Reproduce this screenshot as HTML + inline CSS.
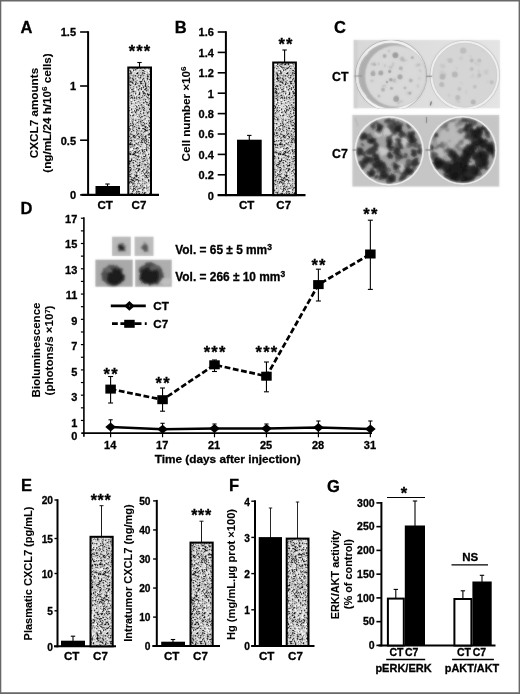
<!DOCTYPE html>
<html><head><meta charset="utf-8"><title>Figure</title>
<style>html,body{margin:0;padding:0;background:#fff}svg{display:block}</style></head>
<body>
<svg width="520" height="694" viewBox="0 0 520 694" font-family="Liberation Sans, Arial, Helvetica, sans-serif" font-weight="bold" fill="#000">
<style>text{stroke:#000;stroke-width:0.3px}text.r{stroke-width:0.1px}</style>
<defs><pattern id="nz" width="30" height="140" patternUnits="userSpaceOnUse" patternTransform="translate(0.2 0.2)"><rect width="30" height="140" fill="#dadada"/><path d="M3 0h1v1h-1zM6 0h1v1h-1zM8 0h1v1h-1zM10 0h1v1h-1zM11 0h1v1h-1zM21 0h1v1h-1zM3 1h1v1h-1zM4 1h1v1h-1zM26 1h1v1h-1zM10 2h1v1h-1zM18 2h1v1h-1zM22 2h1v1h-1zM28 2h1v1h-1zM16 3h1v1h-1zM25 3h1v1h-1zM4 4h1v1h-1zM5 4h1v1h-1zM9 4h1v1h-1zM10 4h1v1h-1zM14 4h1v1h-1zM26 4h1v1h-1zM2 5h1v1h-1zM7 5h1v1h-1zM29 5h1v1h-1zM0 6h1v1h-1zM20 6h1v1h-1zM17 7h1v1h-1zM13 8h1v1h-1zM16 8h1v1h-1zM24 9h1v1h-1zM26 9h1v1h-1zM19 10h1v1h-1zM22 10h1v1h-1zM26 10h1v1h-1zM2 11h1v1h-1zM14 11h1v1h-1zM15 11h1v1h-1zM18 11h1v1h-1zM22 11h1v1h-1zM24 11h1v1h-1zM6 12h1v1h-1zM15 12h1v1h-1zM17 12h1v1h-1zM8 13h1v1h-1zM10 13h1v1h-1zM14 13h1v1h-1zM2 14h1v1h-1zM8 14h1v1h-1zM10 14h1v1h-1zM12 14h1v1h-1zM13 14h1v1h-1zM28 14h1v1h-1zM15 15h1v1h-1zM25 15h1v1h-1zM1 16h1v1h-1zM4 16h1v1h-1zM17 16h1v1h-1zM23 16h1v1h-1zM24 16h1v1h-1zM8 17h1v1h-1zM29 17h1v1h-1zM0 18h1v1h-1zM8 18h1v1h-1zM23 18h1v1h-1zM11 19h1v1h-1zM17 19h1v1h-1zM11 20h1v1h-1zM13 20h1v1h-1zM24 20h1v1h-1zM9 21h1v1h-1zM10 21h1v1h-1zM15 21h1v1h-1zM2 22h1v1h-1zM13 22h1v1h-1zM19 22h1v1h-1zM1 23h1v1h-1zM9 23h1v1h-1zM7 24h1v1h-1zM8 24h1v1h-1zM19 24h1v1h-1zM25 24h1v1h-1zM6 25h1v1h-1zM13 25h1v1h-1zM17 25h1v1h-1zM18 25h1v1h-1zM19 25h1v1h-1zM2 26h1v1h-1zM7 26h1v1h-1zM27 26h1v1h-1zM1 27h1v1h-1zM2 27h1v1h-1zM9 27h1v1h-1zM10 27h1v1h-1zM16 28h1v1h-1zM10 29h1v1h-1zM18 29h1v1h-1zM23 29h1v1h-1zM10 30h1v1h-1zM18 30h1v1h-1zM22 30h1v1h-1zM9 31h1v1h-1zM0 32h1v1h-1zM3 32h1v1h-1zM16 32h1v1h-1zM28 32h1v1h-1zM1 33h1v1h-1zM3 33h1v1h-1zM7 33h1v1h-1zM24 33h1v1h-1zM8 34h1v1h-1zM7 35h1v1h-1zM15 35h1v1h-1zM16 35h1v1h-1zM25 35h1v1h-1zM26 35h1v1h-1zM10 36h1v1h-1zM16 36h1v1h-1zM26 36h1v1h-1zM0 37h1v1h-1zM2 37h1v1h-1zM14 37h1v1h-1zM18 37h1v1h-1zM27 37h1v1h-1zM13 38h1v1h-1zM8 39h1v1h-1zM11 39h1v1h-1zM16 39h1v1h-1zM17 39h1v1h-1zM22 39h1v1h-1zM28 39h1v1h-1zM5 40h1v1h-1zM12 40h1v1h-1zM13 40h1v1h-1zM18 40h1v1h-1zM28 40h1v1h-1zM7 41h1v1h-1zM10 41h1v1h-1zM14 41h1v1h-1zM0 42h1v1h-1zM9 42h1v1h-1zM11 42h1v1h-1zM5 44h1v1h-1zM2 45h1v1h-1zM20 45h1v1h-1zM13 46h1v1h-1zM16 46h1v1h-1zM24 47h1v1h-1zM6 48h1v1h-1zM13 48h1v1h-1zM14 48h1v1h-1zM15 49h1v1h-1zM22 49h1v1h-1zM1 50h1v1h-1zM4 50h1v1h-1zM13 50h1v1h-1zM12 51h1v1h-1zM16 51h1v1h-1zM18 51h1v1h-1zM7 52h1v1h-1zM22 52h1v1h-1zM24 52h1v1h-1zM0 53h1v1h-1zM11 53h1v1h-1zM12 53h1v1h-1zM16 53h1v1h-1zM19 53h1v1h-1zM24 53h1v1h-1zM29 53h1v1h-1zM7 54h1v1h-1zM8 54h1v1h-1zM11 54h1v1h-1zM17 54h1v1h-1zM4 55h1v1h-1zM22 55h1v1h-1zM28 55h1v1h-1zM9 56h1v1h-1zM24 56h1v1h-1zM13 57h1v1h-1zM23 57h1v1h-1zM24 57h1v1h-1zM7 58h1v1h-1zM10 58h1v1h-1zM11 58h1v1h-1zM17 58h1v1h-1zM3 59h1v1h-1zM9 59h1v1h-1zM14 59h1v1h-1zM1 60h1v1h-1zM4 60h1v1h-1zM12 60h1v1h-1zM23 60h1v1h-1zM10 61h1v1h-1zM22 61h1v1h-1zM25 61h1v1h-1zM29 61h1v1h-1zM3 62h1v1h-1zM16 62h1v1h-1zM17 62h1v1h-1zM27 62h1v1h-1zM1 63h1v1h-1zM7 63h1v1h-1zM18 63h1v1h-1zM0 64h1v1h-1zM7 64h1v1h-1zM14 64h1v1h-1zM15 64h1v1h-1zM18 64h1v1h-1zM26 64h1v1h-1zM28 65h1v1h-1zM7 66h1v1h-1zM10 66h1v1h-1zM19 66h1v1h-1zM18 67h1v1h-1zM6 68h1v1h-1zM17 68h1v1h-1zM20 68h1v1h-1zM15 69h1v1h-1zM13 70h1v1h-1zM22 70h1v1h-1zM23 70h1v1h-1zM10 71h1v1h-1zM17 72h1v1h-1zM22 72h1v1h-1zM16 73h1v1h-1zM17 73h1v1h-1zM24 73h1v1h-1zM0 74h1v1h-1zM7 74h1v1h-1zM7 75h1v1h-1zM15 75h1v1h-1zM20 75h1v1h-1zM27 76h1v1h-1zM7 77h1v1h-1zM20 77h1v1h-1zM6 78h1v1h-1zM7 78h1v1h-1zM12 78h1v1h-1zM23 78h1v1h-1zM27 78h1v1h-1zM0 79h1v1h-1zM7 79h1v1h-1zM13 79h1v1h-1zM22 79h1v1h-1zM29 79h1v1h-1zM8 80h1v1h-1zM10 81h1v1h-1zM20 81h1v1h-1zM21 81h1v1h-1zM24 81h1v1h-1zM3 82h1v1h-1zM12 82h1v1h-1zM3 83h1v1h-1zM15 83h1v1h-1zM20 83h1v1h-1zM21 83h1v1h-1zM25 83h1v1h-1zM15 84h1v1h-1zM25 84h1v1h-1zM6 85h1v1h-1zM10 85h1v1h-1zM25 85h1v1h-1zM5 86h1v1h-1zM7 86h1v1h-1zM25 86h1v1h-1zM28 86h1v1h-1zM21 87h1v1h-1zM23 87h1v1h-1zM5 88h1v1h-1zM19 88h1v1h-1zM25 88h1v1h-1zM6 89h1v1h-1zM11 89h1v1h-1zM18 89h1v1h-1zM21 89h1v1h-1zM24 89h1v1h-1zM5 90h1v1h-1zM26 90h1v1h-1zM6 91h1v1h-1zM13 91h1v1h-1zM22 91h1v1h-1zM0 92h1v1h-1zM5 92h1v1h-1zM19 92h1v1h-1zM6 93h1v1h-1zM8 93h1v1h-1zM15 93h1v1h-1zM19 93h1v1h-1zM23 93h1v1h-1zM27 93h1v1h-1zM19 94h1v1h-1zM27 94h1v1h-1zM28 94h1v1h-1zM0 95h1v1h-1zM11 95h1v1h-1zM24 95h1v1h-1zM28 95h1v1h-1zM11 97h1v1h-1zM14 97h1v1h-1zM18 97h1v1h-1zM21 97h1v1h-1zM27 97h1v1h-1zM1 98h1v1h-1zM6 98h1v1h-1zM1 99h1v1h-1zM2 99h1v1h-1zM7 99h1v1h-1zM25 99h1v1h-1zM7 100h1v1h-1zM14 100h1v1h-1zM25 101h1v1h-1zM7 102h1v1h-1zM23 102h1v1h-1zM26 102h1v1h-1zM3 103h1v1h-1zM11 103h1v1h-1zM29 103h1v1h-1zM6 104h1v1h-1zM21 104h1v1h-1zM28 104h1v1h-1zM1 105h1v1h-1zM4 105h1v1h-1zM8 105h1v1h-1zM18 105h1v1h-1zM28 105h1v1h-1zM5 106h1v1h-1zM16 106h1v1h-1zM2 107h1v1h-1zM5 107h1v1h-1zM7 107h1v1h-1zM23 107h1v1h-1zM2 108h1v1h-1zM4 108h1v1h-1zM19 108h1v1h-1zM24 108h1v1h-1zM11 109h1v1h-1zM16 109h1v1h-1zM23 109h1v1h-1zM29 109h1v1h-1zM7 110h1v1h-1zM9 110h1v1h-1zM14 110h1v1h-1zM16 110h1v1h-1zM1 111h1v1h-1zM20 111h1v1h-1zM0 112h1v1h-1zM5 112h1v1h-1zM11 112h1v1h-1zM15 112h1v1h-1zM23 112h1v1h-1zM27 112h1v1h-1zM20 113h1v1h-1zM3 115h1v1h-1zM10 115h1v1h-1zM12 115h1v1h-1zM24 115h1v1h-1zM2 116h1v1h-1zM21 116h1v1h-1zM6 117h1v1h-1zM20 117h1v1h-1zM29 117h1v1h-1zM7 118h1v1h-1zM7 119h1v1h-1zM15 120h1v1h-1zM22 120h1v1h-1zM20 121h1v1h-1zM17 122h1v1h-1zM23 122h1v1h-1zM29 122h1v1h-1zM2 123h1v1h-1zM6 123h1v1h-1zM10 123h1v1h-1zM24 123h1v1h-1zM26 123h1v1h-1zM29 123h1v1h-1zM13 124h1v1h-1zM10 125h1v1h-1zM12 125h1v1h-1zM22 125h1v1h-1zM14 126h1v1h-1zM25 126h1v1h-1zM29 126h1v1h-1zM3 127h1v1h-1zM6 127h1v1h-1zM25 127h1v1h-1zM27 127h1v1h-1zM9 128h1v1h-1zM18 128h1v1h-1zM19 128h1v1h-1zM22 128h1v1h-1zM23 128h1v1h-1zM3 129h1v1h-1zM16 129h1v1h-1zM24 129h1v1h-1zM25 129h1v1h-1zM29 129h1v1h-1zM1 130h1v1h-1zM13 130h1v1h-1zM25 130h1v1h-1zM26 130h1v1h-1zM11 131h1v1h-1zM24 131h1v1h-1zM6 132h1v1h-1zM2 133h1v1h-1zM6 133h1v1h-1zM18 133h1v1h-1zM29 133h1v1h-1zM0 134h1v1h-1zM1 134h1v1h-1zM17 134h1v1h-1zM21 134h1v1h-1zM28 134h1v1h-1zM7 135h1v1h-1zM13 135h1v1h-1zM14 135h1v1h-1zM9 136h1v1h-1zM13 136h1v1h-1zM18 136h1v1h-1zM25 136h1v1h-1zM0 137h1v1h-1zM14 137h1v1h-1zM19 137h1v1h-1zM29 137h1v1h-1zM2 138h1v1h-1zM21 138h1v1h-1zM23 138h1v1h-1zM2 139h1v1h-1zM22 139h1v1h-1zM26 139h1v1h-1z" fill="#000"/><path d="M1 0h1v1h-1zM14 0h1v1h-1zM24 0h1v1h-1zM25 0h1v1h-1zM28 0h1v1h-1zM21 1h1v1h-1zM24 1h1v1h-1zM20 2h1v1h-1zM21 2h1v1h-1zM24 2h1v1h-1zM9 3h1v1h-1zM10 3h1v1h-1zM2 4h1v1h-1zM7 4h1v1h-1zM11 4h1v1h-1zM12 4h1v1h-1zM17 4h1v1h-1zM21 4h1v1h-1zM27 4h1v1h-1zM1 5h1v1h-1zM5 5h1v1h-1zM14 5h1v1h-1zM26 6h1v1h-1zM5 7h1v1h-1zM6 7h1v1h-1zM7 7h1v1h-1zM10 7h1v1h-1zM16 7h1v1h-1zM2 8h1v1h-1zM15 8h1v1h-1zM18 8h1v1h-1zM26 8h1v1h-1zM21 9h1v1h-1zM22 9h1v1h-1zM0 10h1v1h-1zM3 10h1v1h-1zM12 10h1v1h-1zM0 11h1v1h-1zM5 11h1v1h-1zM10 11h1v1h-1zM1 12h1v1h-1zM4 12h1v1h-1zM5 12h1v1h-1zM13 12h1v1h-1zM20 12h1v1h-1zM23 12h1v1h-1zM9 13h1v1h-1zM13 13h1v1h-1zM22 13h1v1h-1zM25 14h1v1h-1zM4 15h1v1h-1zM16 15h1v1h-1zM18 15h1v1h-1zM18 16h1v1h-1zM3 17h1v1h-1zM18 17h1v1h-1zM21 17h1v1h-1zM4 18h1v1h-1zM11 18h1v1h-1zM24 18h1v1h-1zM1 19h1v1h-1zM19 19h1v1h-1zM0 20h1v1h-1zM1 20h1v1h-1zM9 20h1v1h-1zM27 20h1v1h-1zM22 21h1v1h-1zM23 21h1v1h-1zM8 22h1v1h-1zM12 22h1v1h-1zM27 23h1v1h-1zM2 24h1v1h-1zM6 24h1v1h-1zM16 24h1v1h-1zM24 24h1v1h-1zM29 24h1v1h-1zM17 26h1v1h-1zM21 27h1v1h-1zM0 28h1v1h-1zM11 28h1v1h-1zM18 28h1v1h-1zM19 28h1v1h-1zM29 28h1v1h-1zM4 29h1v1h-1zM13 29h1v1h-1zM19 29h1v1h-1zM24 29h1v1h-1zM17 30h1v1h-1zM26 30h1v1h-1zM0 31h1v1h-1zM5 31h1v1h-1zM15 31h1v1h-1zM21 31h1v1h-1zM26 31h1v1h-1zM5 32h1v1h-1zM23 32h1v1h-1zM25 32h1v1h-1zM26 32h1v1h-1zM11 33h1v1h-1zM21 33h1v1h-1zM27 33h1v1h-1zM1 34h1v1h-1zM9 34h1v1h-1zM10 34h1v1h-1zM14 34h1v1h-1zM16 34h1v1h-1zM24 34h1v1h-1zM5 35h1v1h-1zM17 35h1v1h-1zM22 35h1v1h-1zM28 35h1v1h-1zM6 36h1v1h-1zM9 36h1v1h-1zM5 37h1v1h-1zM11 37h1v1h-1zM25 37h1v1h-1zM10 39h1v1h-1zM12 39h1v1h-1zM15 39h1v1h-1zM2 40h1v1h-1zM4 40h1v1h-1zM9 41h1v1h-1zM18 41h1v1h-1zM28 41h1v1h-1zM26 42h1v1h-1zM0 43h1v1h-1zM4 43h1v1h-1zM12 43h1v1h-1zM13 43h1v1h-1zM17 43h1v1h-1zM19 43h1v1h-1zM22 43h1v1h-1zM24 43h1v1h-1zM2 44h1v1h-1zM12 44h1v1h-1zM14 45h1v1h-1zM22 45h1v1h-1zM26 45h1v1h-1zM10 46h1v1h-1zM0 47h1v1h-1zM15 47h1v1h-1zM23 47h1v1h-1zM10 48h1v1h-1zM18 48h1v1h-1zM19 48h1v1h-1zM23 48h1v1h-1zM26 48h1v1h-1zM13 49h1v1h-1zM17 49h1v1h-1zM19 51h1v1h-1zM5 52h1v1h-1zM6 52h1v1h-1zM25 52h1v1h-1zM7 53h1v1h-1zM10 53h1v1h-1zM14 53h1v1h-1zM18 53h1v1h-1zM23 53h1v1h-1zM14 54h1v1h-1zM22 54h1v1h-1zM4 57h1v1h-1zM6 57h1v1h-1zM12 57h1v1h-1zM16 57h1v1h-1zM19 57h1v1h-1zM9 58h1v1h-1zM20 58h1v1h-1zM29 58h1v1h-1zM15 59h1v1h-1zM22 59h1v1h-1zM25 59h1v1h-1zM27 59h1v1h-1zM29 59h1v1h-1zM10 60h1v1h-1zM21 60h1v1h-1zM26 60h1v1h-1zM0 61h1v1h-1zM4 61h1v1h-1zM8 61h1v1h-1zM2 62h1v1h-1zM6 62h1v1h-1zM11 62h1v1h-1zM12 62h1v1h-1zM12 63h1v1h-1zM15 63h1v1h-1zM22 63h1v1h-1zM10 64h1v1h-1zM11 64h1v1h-1zM23 64h1v1h-1zM27 64h1v1h-1zM1 65h1v1h-1zM3 65h1v1h-1zM6 65h1v1h-1zM9 65h1v1h-1zM11 66h1v1h-1zM4 67h1v1h-1zM11 67h1v1h-1zM12 67h1v1h-1zM13 67h1v1h-1zM16 68h1v1h-1zM24 68h1v1h-1zM28 68h1v1h-1zM13 69h1v1h-1zM8 70h1v1h-1zM10 70h1v1h-1zM24 71h1v1h-1zM29 71h1v1h-1zM6 72h1v1h-1zM10 72h1v1h-1zM11 72h1v1h-1zM6 73h1v1h-1zM7 73h1v1h-1zM9 73h1v1h-1zM10 73h1v1h-1zM11 73h1v1h-1zM22 73h1v1h-1zM27 74h1v1h-1zM29 74h1v1h-1zM3 75h1v1h-1zM8 75h1v1h-1zM18 75h1v1h-1zM23 75h1v1h-1zM27 75h1v1h-1zM7 76h1v1h-1zM17 76h1v1h-1zM28 76h1v1h-1zM2 77h1v1h-1zM10 77h1v1h-1zM18 77h1v1h-1zM1 78h1v1h-1zM2 78h1v1h-1zM8 78h1v1h-1zM15 78h1v1h-1zM2 79h1v1h-1zM27 79h1v1h-1zM13 80h1v1h-1zM24 80h1v1h-1zM0 81h1v1h-1zM6 81h1v1h-1zM15 81h1v1h-1zM19 81h1v1h-1zM28 81h1v1h-1zM1 82h1v1h-1zM11 82h1v1h-1zM16 82h1v1h-1zM20 82h1v1h-1zM25 82h1v1h-1zM12 83h1v1h-1zM17 83h1v1h-1zM9 84h1v1h-1zM7 85h1v1h-1zM18 85h1v1h-1zM19 85h1v1h-1zM22 85h1v1h-1zM2 86h1v1h-1zM13 86h1v1h-1zM16 86h1v1h-1zM19 86h1v1h-1zM23 86h1v1h-1zM10 87h1v1h-1zM16 87h1v1h-1zM26 87h1v1h-1zM4 88h1v1h-1zM6 88h1v1h-1zM8 88h1v1h-1zM13 88h1v1h-1zM21 88h1v1h-1zM26 88h1v1h-1zM1 89h1v1h-1zM12 89h1v1h-1zM25 89h1v1h-1zM5 91h1v1h-1zM12 91h1v1h-1zM23 91h1v1h-1zM6 92h1v1h-1zM23 92h1v1h-1zM24 92h1v1h-1zM24 93h1v1h-1zM25 93h1v1h-1zM18 94h1v1h-1zM29 94h1v1h-1zM3 95h1v1h-1zM6 95h1v1h-1zM7 95h1v1h-1zM10 95h1v1h-1zM22 95h1v1h-1zM16 96h1v1h-1zM26 96h1v1h-1zM7 97h1v1h-1zM12 97h1v1h-1zM16 97h1v1h-1zM19 97h1v1h-1zM5 98h1v1h-1zM10 98h1v1h-1zM12 98h1v1h-1zM14 98h1v1h-1zM16 98h1v1h-1zM19 98h1v1h-1zM29 98h1v1h-1zM23 99h1v1h-1zM3 100h1v1h-1zM11 101h1v1h-1zM18 101h1v1h-1zM29 101h1v1h-1zM0 102h1v1h-1zM2 102h1v1h-1zM15 102h1v1h-1zM27 102h1v1h-1zM26 104h1v1h-1zM0 105h1v1h-1zM15 105h1v1h-1zM9 107h1v1h-1zM19 107h1v1h-1zM22 107h1v1h-1zM1 108h1v1h-1zM11 108h1v1h-1zM15 108h1v1h-1zM29 108h1v1h-1zM1 109h1v1h-1zM17 109h1v1h-1zM4 110h1v1h-1zM18 110h1v1h-1zM23 110h1v1h-1zM24 110h1v1h-1zM0 111h1v1h-1zM3 111h1v1h-1zM6 111h1v1h-1zM8 111h1v1h-1zM15 111h1v1h-1zM28 111h1v1h-1zM1 113h1v1h-1zM3 113h1v1h-1zM23 113h1v1h-1zM27 113h1v1h-1zM13 114h1v1h-1zM13 115h1v1h-1zM0 116h1v1h-1zM4 116h1v1h-1zM17 116h1v1h-1zM19 116h1v1h-1zM22 116h1v1h-1zM28 116h1v1h-1zM1 118h1v1h-1zM4 118h1v1h-1zM25 118h1v1h-1zM0 119h1v1h-1zM3 119h1v1h-1zM5 119h1v1h-1zM12 119h1v1h-1zM18 119h1v1h-1zM1 120h1v1h-1zM28 120h1v1h-1zM12 121h1v1h-1zM18 121h1v1h-1zM2 122h1v1h-1zM12 122h1v1h-1zM4 123h1v1h-1zM12 123h1v1h-1zM15 124h1v1h-1zM21 124h1v1h-1zM18 125h1v1h-1zM23 125h1v1h-1zM28 125h1v1h-1zM29 125h1v1h-1zM0 126h1v1h-1zM8 126h1v1h-1zM9 126h1v1h-1zM24 126h1v1h-1zM16 127h1v1h-1zM18 127h1v1h-1zM6 128h1v1h-1zM2 129h1v1h-1zM5 129h1v1h-1zM8 129h1v1h-1zM10 129h1v1h-1zM12 129h1v1h-1zM5 130h1v1h-1zM9 130h1v1h-1zM17 130h1v1h-1zM21 130h1v1h-1zM27 130h1v1h-1zM16 131h1v1h-1zM16 132h1v1h-1zM23 132h1v1h-1zM10 133h1v1h-1zM3 134h1v1h-1zM4 134h1v1h-1zM10 134h1v1h-1zM11 134h1v1h-1zM29 134h1v1h-1zM1 135h1v1h-1zM5 135h1v1h-1zM6 135h1v1h-1zM16 135h1v1h-1zM20 135h1v1h-1zM25 135h1v1h-1zM15 136h1v1h-1zM19 136h1v1h-1zM21 136h1v1h-1zM24 136h1v1h-1zM7 137h1v1h-1zM11 137h1v1h-1zM25 137h1v1h-1zM28 137h1v1h-1zM10 138h1v1h-1zM17 138h1v1h-1zM25 138h1v1h-1zM24 139h1v1h-1z" fill="#484848"/><path d="M15 0h1v1h-1zM23 0h1v1h-1zM26 0h1v1h-1zM5 1h1v1h-1zM11 1h1v1h-1zM14 1h1v1h-1zM19 1h1v1h-1zM15 2h1v1h-1zM25 2h1v1h-1zM4 3h1v1h-1zM11 3h1v1h-1zM12 3h1v1h-1zM15 3h1v1h-1zM6 4h1v1h-1zM18 4h1v1h-1zM29 4h1v1h-1zM12 5h1v1h-1zM19 5h1v1h-1zM26 5h1v1h-1zM1 6h1v1h-1zM2 6h1v1h-1zM10 6h1v1h-1zM11 6h1v1h-1zM12 6h1v1h-1zM13 6h1v1h-1zM25 7h1v1h-1zM26 7h1v1h-1zM27 7h1v1h-1zM28 7h1v1h-1zM0 8h1v1h-1zM28 8h1v1h-1zM29 8h1v1h-1zM17 9h1v1h-1zM25 9h1v1h-1zM6 10h1v1h-1zM16 10h1v1h-1zM1 11h1v1h-1zM4 11h1v1h-1zM9 11h1v1h-1zM0 12h1v1h-1zM3 12h1v1h-1zM7 12h1v1h-1zM9 12h1v1h-1zM11 12h1v1h-1zM16 12h1v1h-1zM12 13h1v1h-1zM18 13h1v1h-1zM19 13h1v1h-1zM20 13h1v1h-1zM24 13h1v1h-1zM28 13h1v1h-1zM0 14h1v1h-1zM6 14h1v1h-1zM9 14h1v1h-1zM14 14h1v1h-1zM15 14h1v1h-1zM14 15h1v1h-1zM3 16h1v1h-1zM5 16h1v1h-1zM7 16h1v1h-1zM19 16h1v1h-1zM21 16h1v1h-1zM25 16h1v1h-1zM29 16h1v1h-1zM5 17h1v1h-1zM13 17h1v1h-1zM14 17h1v1h-1zM16 17h1v1h-1zM26 17h1v1h-1zM3 18h1v1h-1zM15 18h1v1h-1zM22 18h1v1h-1zM26 18h1v1h-1zM28 18h1v1h-1zM29 18h1v1h-1zM16 19h1v1h-1zM22 19h1v1h-1zM25 19h1v1h-1zM27 19h1v1h-1zM2 20h1v1h-1zM5 20h1v1h-1zM10 20h1v1h-1zM14 20h1v1h-1zM15 20h1v1h-1zM25 20h1v1h-1zM1 21h1v1h-1zM2 21h1v1h-1zM3 21h1v1h-1zM21 21h1v1h-1zM4 22h1v1h-1zM7 22h1v1h-1zM9 22h1v1h-1zM17 22h1v1h-1zM20 22h1v1h-1zM26 22h1v1h-1zM27 22h1v1h-1zM0 23h1v1h-1zM5 23h1v1h-1zM8 23h1v1h-1zM13 23h1v1h-1zM17 23h1v1h-1zM21 23h1v1h-1zM22 23h1v1h-1zM24 23h1v1h-1zM28 23h1v1h-1zM4 24h1v1h-1zM26 24h1v1h-1zM1 25h1v1h-1zM10 25h1v1h-1zM21 25h1v1h-1zM25 25h1v1h-1zM28 25h1v1h-1zM1 26h1v1h-1zM8 26h1v1h-1zM13 26h1v1h-1zM28 26h1v1h-1zM0 27h1v1h-1zM8 27h1v1h-1zM14 27h1v1h-1zM23 27h1v1h-1zM27 27h1v1h-1zM28 27h1v1h-1zM29 27h1v1h-1zM7 28h1v1h-1zM17 28h1v1h-1zM26 28h1v1h-1zM2 29h1v1h-1zM5 29h1v1h-1zM6 29h1v1h-1zM9 29h1v1h-1zM15 29h1v1h-1zM27 29h1v1h-1zM28 29h1v1h-1zM7 30h1v1h-1zM9 30h1v1h-1zM27 30h1v1h-1zM4 31h1v1h-1zM17 31h1v1h-1zM22 31h1v1h-1zM27 31h1v1h-1zM9 32h1v1h-1zM19 32h1v1h-1zM16 33h1v1h-1zM29 33h1v1h-1zM4 34h1v1h-1zM5 34h1v1h-1zM29 34h1v1h-1zM9 35h1v1h-1zM23 35h1v1h-1zM0 36h1v1h-1zM3 36h1v1h-1zM8 36h1v1h-1zM15 36h1v1h-1zM24 36h1v1h-1zM29 36h1v1h-1zM6 37h1v1h-1zM12 37h1v1h-1zM13 37h1v1h-1zM24 37h1v1h-1zM26 37h1v1h-1zM3 38h1v1h-1zM8 38h1v1h-1zM11 38h1v1h-1zM14 38h1v1h-1zM15 38h1v1h-1zM22 38h1v1h-1zM5 39h1v1h-1zM6 39h1v1h-1zM3 40h1v1h-1zM11 40h1v1h-1zM15 40h1v1h-1zM19 40h1v1h-1zM20 40h1v1h-1zM5 41h1v1h-1zM11 41h1v1h-1zM22 41h1v1h-1zM24 41h1v1h-1zM25 41h1v1h-1zM12 42h1v1h-1zM13 42h1v1h-1zM18 42h1v1h-1zM7 43h1v1h-1zM8 43h1v1h-1zM9 43h1v1h-1zM14 43h1v1h-1zM0 44h1v1h-1zM3 44h1v1h-1zM21 44h1v1h-1zM7 45h1v1h-1zM6 46h1v1h-1zM14 46h1v1h-1zM21 46h1v1h-1zM22 46h1v1h-1zM26 46h1v1h-1zM29 46h1v1h-1zM6 47h1v1h-1zM13 47h1v1h-1zM19 47h1v1h-1zM21 47h1v1h-1zM26 47h1v1h-1zM27 47h1v1h-1zM28 47h1v1h-1zM17 48h1v1h-1zM20 48h1v1h-1zM4 49h1v1h-1zM11 49h1v1h-1zM12 49h1v1h-1zM22 50h1v1h-1zM27 50h1v1h-1zM1 51h1v1h-1zM8 51h1v1h-1zM17 51h1v1h-1zM1 52h1v1h-1zM15 52h1v1h-1zM16 52h1v1h-1zM9 53h1v1h-1zM21 53h1v1h-1zM4 54h1v1h-1zM3 55h1v1h-1zM13 55h1v1h-1zM21 55h1v1h-1zM23 55h1v1h-1zM3 56h1v1h-1zM12 56h1v1h-1zM15 56h1v1h-1zM19 56h1v1h-1zM20 56h1v1h-1zM27 56h1v1h-1zM5 57h1v1h-1zM29 57h1v1h-1zM6 58h1v1h-1zM8 58h1v1h-1zM22 58h1v1h-1zM2 59h1v1h-1zM4 59h1v1h-1zM19 59h1v1h-1zM24 59h1v1h-1zM28 59h1v1h-1zM3 60h1v1h-1zM6 60h1v1h-1zM22 60h1v1h-1zM28 60h1v1h-1zM1 61h1v1h-1zM13 61h1v1h-1zM15 61h1v1h-1zM16 61h1v1h-1zM17 61h1v1h-1zM23 61h1v1h-1zM27 61h1v1h-1zM9 62h1v1h-1zM15 62h1v1h-1zM20 62h1v1h-1zM21 62h1v1h-1zM26 62h1v1h-1zM11 63h1v1h-1zM9 64h1v1h-1zM12 64h1v1h-1zM17 64h1v1h-1zM0 65h1v1h-1zM20 65h1v1h-1zM2 66h1v1h-1zM21 66h1v1h-1zM23 66h1v1h-1zM27 66h1v1h-1zM1 67h1v1h-1zM2 67h1v1h-1zM8 67h1v1h-1zM14 67h1v1h-1zM16 67h1v1h-1zM17 67h1v1h-1zM24 67h1v1h-1zM1 68h1v1h-1zM2 68h1v1h-1zM9 68h1v1h-1zM12 68h1v1h-1zM14 68h1v1h-1zM25 68h1v1h-1zM29 69h1v1h-1zM9 70h1v1h-1zM19 70h1v1h-1zM7 72h1v1h-1zM20 72h1v1h-1zM23 72h1v1h-1zM27 72h1v1h-1zM0 73h1v1h-1zM23 73h1v1h-1zM6 74h1v1h-1zM13 74h1v1h-1zM18 74h1v1h-1zM21 74h1v1h-1zM22 74h1v1h-1zM26 74h1v1h-1zM1 75h1v1h-1zM11 75h1v1h-1zM12 75h1v1h-1zM13 75h1v1h-1zM14 75h1v1h-1zM21 75h1v1h-1zM2 76h1v1h-1zM5 76h1v1h-1zM9 76h1v1h-1zM13 76h1v1h-1zM15 76h1v1h-1zM20 76h1v1h-1zM6 77h1v1h-1zM9 77h1v1h-1zM12 77h1v1h-1zM19 77h1v1h-1zM27 77h1v1h-1zM9 78h1v1h-1zM10 78h1v1h-1zM19 78h1v1h-1zM26 78h1v1h-1zM1 79h1v1h-1zM4 79h1v1h-1zM12 79h1v1h-1zM2 80h1v1h-1zM7 80h1v1h-1zM11 80h1v1h-1zM16 80h1v1h-1zM17 80h1v1h-1zM22 80h1v1h-1zM7 81h1v1h-1zM9 81h1v1h-1zM11 81h1v1h-1zM12 81h1v1h-1zM9 82h1v1h-1zM10 82h1v1h-1zM15 82h1v1h-1zM2 83h1v1h-1zM13 83h1v1h-1zM23 83h1v1h-1zM0 84h1v1h-1zM10 84h1v1h-1zM14 84h1v1h-1zM28 84h1v1h-1zM3 85h1v1h-1zM24 85h1v1h-1zM27 85h1v1h-1zM0 86h1v1h-1zM26 86h1v1h-1zM0 87h1v1h-1zM1 87h1v1h-1zM29 87h1v1h-1zM0 88h1v1h-1zM10 88h1v1h-1zM8 89h1v1h-1zM27 89h1v1h-1zM28 89h1v1h-1zM0 90h1v1h-1zM13 90h1v1h-1zM18 90h1v1h-1zM2 91h1v1h-1zM3 91h1v1h-1zM11 91h1v1h-1zM14 91h1v1h-1zM15 91h1v1h-1zM3 92h1v1h-1zM4 92h1v1h-1zM7 92h1v1h-1zM9 92h1v1h-1zM11 92h1v1h-1zM15 92h1v1h-1zM29 92h1v1h-1zM13 93h1v1h-1zM7 94h1v1h-1zM11 94h1v1h-1zM15 94h1v1h-1zM25 94h1v1h-1zM13 95h1v1h-1zM4 96h1v1h-1zM5 96h1v1h-1zM6 96h1v1h-1zM8 96h1v1h-1zM9 96h1v1h-1zM12 96h1v1h-1zM14 96h1v1h-1zM19 96h1v1h-1zM22 96h1v1h-1zM2 97h1v1h-1zM10 97h1v1h-1zM28 97h1v1h-1zM3 98h1v1h-1zM24 98h1v1h-1zM28 98h1v1h-1zM0 99h1v1h-1zM28 99h1v1h-1zM1 100h1v1h-1zM2 100h1v1h-1zM20 100h1v1h-1zM2 101h1v1h-1zM4 101h1v1h-1zM10 101h1v1h-1zM17 101h1v1h-1zM1 102h1v1h-1zM19 102h1v1h-1zM24 102h1v1h-1zM29 102h1v1h-1zM1 103h1v1h-1zM6 103h1v1h-1zM15 103h1v1h-1zM23 103h1v1h-1zM27 104h1v1h-1zM20 105h1v1h-1zM21 105h1v1h-1zM23 105h1v1h-1zM29 105h1v1h-1zM3 106h1v1h-1zM4 106h1v1h-1zM13 106h1v1h-1zM22 106h1v1h-1zM24 106h1v1h-1zM16 107h1v1h-1zM17 107h1v1h-1zM21 107h1v1h-1zM28 107h1v1h-1zM6 108h1v1h-1zM7 108h1v1h-1zM22 108h1v1h-1zM6 109h1v1h-1zM18 109h1v1h-1zM21 109h1v1h-1zM2 110h1v1h-1zM6 110h1v1h-1zM12 111h1v1h-1zM14 111h1v1h-1zM16 111h1v1h-1zM26 111h1v1h-1zM29 111h1v1h-1zM3 112h1v1h-1zM7 112h1v1h-1zM12 112h1v1h-1zM28 112h1v1h-1zM4 113h1v1h-1zM5 113h1v1h-1zM16 113h1v1h-1zM9 114h1v1h-1zM16 114h1v1h-1zM18 114h1v1h-1zM19 114h1v1h-1zM21 114h1v1h-1zM19 115h1v1h-1zM23 115h1v1h-1zM25 115h1v1h-1zM5 116h1v1h-1zM8 116h1v1h-1zM26 116h1v1h-1zM11 118h1v1h-1zM13 118h1v1h-1zM24 118h1v1h-1zM8 119h1v1h-1zM13 119h1v1h-1zM15 119h1v1h-1zM19 119h1v1h-1zM23 119h1v1h-1zM24 119h1v1h-1zM7 120h1v1h-1zM11 120h1v1h-1zM13 120h1v1h-1zM20 120h1v1h-1zM21 120h1v1h-1zM29 120h1v1h-1zM28 121h1v1h-1zM16 122h1v1h-1zM20 122h1v1h-1zM21 122h1v1h-1zM22 122h1v1h-1zM5 123h1v1h-1zM13 123h1v1h-1zM18 123h1v1h-1zM20 123h1v1h-1zM6 124h1v1h-1zM23 124h1v1h-1zM24 124h1v1h-1zM28 124h1v1h-1zM0 125h1v1h-1zM1 125h1v1h-1zM11 125h1v1h-1zM16 125h1v1h-1zM21 125h1v1h-1zM12 126h1v1h-1zM13 126h1v1h-1zM26 126h1v1h-1zM12 127h1v1h-1zM13 127h1v1h-1zM19 127h1v1h-1zM2 128h1v1h-1zM10 128h1v1h-1zM12 128h1v1h-1zM24 128h1v1h-1zM26 128h1v1h-1zM1 129h1v1h-1zM27 129h1v1h-1zM7 130h1v1h-1zM19 130h1v1h-1zM20 131h1v1h-1zM21 131h1v1h-1zM3 132h1v1h-1zM4 132h1v1h-1zM7 132h1v1h-1zM3 133h1v1h-1zM4 133h1v1h-1zM7 133h1v1h-1zM16 133h1v1h-1zM17 133h1v1h-1zM20 133h1v1h-1zM21 133h1v1h-1zM28 133h1v1h-1zM8 134h1v1h-1zM12 134h1v1h-1zM23 134h1v1h-1zM27 134h1v1h-1zM12 135h1v1h-1zM22 135h1v1h-1zM26 135h1v1h-1zM28 135h1v1h-1zM1 136h1v1h-1zM2 136h1v1h-1zM3 136h1v1h-1zM12 136h1v1h-1zM22 136h1v1h-1zM1 137h1v1h-1zM10 137h1v1h-1zM13 137h1v1h-1zM15 137h1v1h-1zM22 137h1v1h-1zM6 138h1v1h-1zM18 138h1v1h-1zM22 138h1v1h-1zM26 138h1v1h-1zM4 139h1v1h-1zM11 139h1v1h-1zM13 139h1v1h-1zM16 139h1v1h-1zM28 139h1v1h-1z" fill="#8c8c8c"/><path d="M0 0h1v1h-1zM5 0h1v1h-1zM9 0h1v1h-1zM12 0h1v1h-1zM19 0h1v1h-1zM1 1h1v1h-1zM7 1h1v1h-1zM8 1h1v1h-1zM22 1h1v1h-1zM1 2h1v1h-1zM16 2h1v1h-1zM26 2h1v1h-1zM29 2h1v1h-1zM5 3h1v1h-1zM6 3h1v1h-1zM17 3h1v1h-1zM18 3h1v1h-1zM0 4h1v1h-1zM1 4h1v1h-1zM8 4h1v1h-1zM13 4h1v1h-1zM19 4h1v1h-1zM20 4h1v1h-1zM28 4h1v1h-1zM13 5h1v1h-1zM18 5h1v1h-1zM28 5h1v1h-1zM5 6h1v1h-1zM9 6h1v1h-1zM28 6h1v1h-1zM1 7h1v1h-1zM2 7h1v1h-1zM14 7h1v1h-1zM22 7h1v1h-1zM1 8h1v1h-1zM4 8h1v1h-1zM8 8h1v1h-1zM14 8h1v1h-1zM22 8h1v1h-1zM5 9h1v1h-1zM23 9h1v1h-1zM8 10h1v1h-1zM13 10h1v1h-1zM15 10h1v1h-1zM17 10h1v1h-1zM21 10h1v1h-1zM23 10h1v1h-1zM6 11h1v1h-1zM17 11h1v1h-1zM27 11h1v1h-1zM8 12h1v1h-1zM14 12h1v1h-1zM25 12h1v1h-1zM28 12h1v1h-1zM2 13h1v1h-1zM6 13h1v1h-1zM7 13h1v1h-1zM23 13h1v1h-1zM1 14h1v1h-1zM3 14h1v1h-1zM11 14h1v1h-1zM22 14h1v1h-1zM23 14h1v1h-1zM17 15h1v1h-1zM11 16h1v1h-1zM12 17h1v1h-1zM5 18h1v1h-1zM6 18h1v1h-1zM16 18h1v1h-1zM17 18h1v1h-1zM20 18h1v1h-1zM21 18h1v1h-1zM2 19h1v1h-1zM21 19h1v1h-1zM29 19h1v1h-1zM8 20h1v1h-1zM12 20h1v1h-1zM19 20h1v1h-1zM20 20h1v1h-1zM22 20h1v1h-1zM23 20h1v1h-1zM4 21h1v1h-1zM5 21h1v1h-1zM16 21h1v1h-1zM16 22h1v1h-1zM4 23h1v1h-1zM10 23h1v1h-1zM11 23h1v1h-1zM19 23h1v1h-1zM29 23h1v1h-1zM3 24h1v1h-1zM9 24h1v1h-1zM15 24h1v1h-1zM21 24h1v1h-1zM22 24h1v1h-1zM23 24h1v1h-1zM27 24h1v1h-1zM2 25h1v1h-1zM5 25h1v1h-1zM8 25h1v1h-1zM11 25h1v1h-1zM14 25h1v1h-1zM24 25h1v1h-1zM0 26h1v1h-1zM12 26h1v1h-1zM14 26h1v1h-1zM23 26h1v1h-1zM24 26h1v1h-1zM25 26h1v1h-1zM4 27h1v1h-1zM13 27h1v1h-1zM15 27h1v1h-1zM25 27h1v1h-1zM3 28h1v1h-1zM4 28h1v1h-1zM23 28h1v1h-1zM25 28h1v1h-1zM3 29h1v1h-1zM11 29h1v1h-1zM14 29h1v1h-1zM20 29h1v1h-1zM26 29h1v1h-1zM0 30h1v1h-1zM2 30h1v1h-1zM3 30h1v1h-1zM6 30h1v1h-1zM12 30h1v1h-1zM14 30h1v1h-1zM24 30h1v1h-1zM11 31h1v1h-1zM18 31h1v1h-1zM23 31h1v1h-1zM25 31h1v1h-1zM10 32h1v1h-1zM12 32h1v1h-1zM14 32h1v1h-1zM15 32h1v1h-1zM27 32h1v1h-1zM29 32h1v1h-1zM9 33h1v1h-1zM25 33h1v1h-1zM7 34h1v1h-1zM19 34h1v1h-1zM27 34h1v1h-1zM2 35h1v1h-1zM4 35h1v1h-1zM14 35h1v1h-1zM19 35h1v1h-1zM27 35h1v1h-1zM29 35h1v1h-1zM14 36h1v1h-1zM19 36h1v1h-1zM21 36h1v1h-1zM28 36h1v1h-1zM28 37h1v1h-1zM5 38h1v1h-1zM19 38h1v1h-1zM21 38h1v1h-1zM2 39h1v1h-1zM14 39h1v1h-1zM24 39h1v1h-1zM16 40h1v1h-1zM17 40h1v1h-1zM22 40h1v1h-1zM23 40h1v1h-1zM29 40h1v1h-1zM0 41h1v1h-1zM2 41h1v1h-1zM20 41h1v1h-1zM5 42h1v1h-1zM6 42h1v1h-1zM7 42h1v1h-1zM16 42h1v1h-1zM24 42h1v1h-1zM25 42h1v1h-1zM1 43h1v1h-1zM15 43h1v1h-1zM18 43h1v1h-1zM25 43h1v1h-1zM29 43h1v1h-1zM4 44h1v1h-1zM6 44h1v1h-1zM14 44h1v1h-1zM17 44h1v1h-1zM20 44h1v1h-1zM0 45h1v1h-1zM3 45h1v1h-1zM8 45h1v1h-1zM11 45h1v1h-1zM17 45h1v1h-1zM4 46h1v1h-1zM8 46h1v1h-1zM12 46h1v1h-1zM15 46h1v1h-1zM17 46h1v1h-1zM18 46h1v1h-1zM20 46h1v1h-1zM28 46h1v1h-1zM8 47h1v1h-1zM17 47h1v1h-1zM20 47h1v1h-1zM22 47h1v1h-1zM0 48h1v1h-1zM3 48h1v1h-1zM22 48h1v1h-1zM8 49h1v1h-1zM28 49h1v1h-1zM29 49h1v1h-1zM8 50h1v1h-1zM16 50h1v1h-1zM18 50h1v1h-1zM23 50h1v1h-1zM24 50h1v1h-1zM29 50h1v1h-1zM6 51h1v1h-1zM7 51h1v1h-1zM11 52h1v1h-1zM17 52h1v1h-1zM18 52h1v1h-1zM19 52h1v1h-1zM29 52h1v1h-1zM1 53h1v1h-1zM6 53h1v1h-1zM12 54h1v1h-1zM18 54h1v1h-1zM20 54h1v1h-1zM24 54h1v1h-1zM27 54h1v1h-1zM28 54h1v1h-1zM8 55h1v1h-1zM14 55h1v1h-1zM16 55h1v1h-1zM24 55h1v1h-1zM8 56h1v1h-1zM8 57h1v1h-1zM10 57h1v1h-1zM15 57h1v1h-1zM21 57h1v1h-1zM1 58h1v1h-1zM19 58h1v1h-1zM27 58h1v1h-1zM28 58h1v1h-1zM5 59h1v1h-1zM23 59h1v1h-1zM11 60h1v1h-1zM17 60h1v1h-1zM29 60h1v1h-1zM3 61h1v1h-1zM6 61h1v1h-1zM18 61h1v1h-1zM1 62h1v1h-1zM7 62h1v1h-1zM29 62h1v1h-1zM3 63h1v1h-1zM14 63h1v1h-1zM16 63h1v1h-1zM20 63h1v1h-1zM26 63h1v1h-1zM28 63h1v1h-1zM2 65h1v1h-1zM12 65h1v1h-1zM13 65h1v1h-1zM16 65h1v1h-1zM19 65h1v1h-1zM21 65h1v1h-1zM22 65h1v1h-1zM3 66h1v1h-1zM5 66h1v1h-1zM8 66h1v1h-1zM29 66h1v1h-1zM15 67h1v1h-1zM0 68h1v1h-1zM4 68h1v1h-1zM7 68h1v1h-1zM19 68h1v1h-1zM21 68h1v1h-1zM22 68h1v1h-1zM29 68h1v1h-1zM0 69h1v1h-1zM21 69h1v1h-1zM25 69h1v1h-1zM0 70h1v1h-1zM2 70h1v1h-1zM3 70h1v1h-1zM7 70h1v1h-1zM15 70h1v1h-1zM20 70h1v1h-1zM3 71h1v1h-1zM4 71h1v1h-1zM6 71h1v1h-1zM11 71h1v1h-1zM12 71h1v1h-1zM18 71h1v1h-1zM21 71h1v1h-1zM25 71h1v1h-1zM5 72h1v1h-1zM14 72h1v1h-1zM18 72h1v1h-1zM5 73h1v1h-1zM19 73h1v1h-1zM21 73h1v1h-1zM27 73h1v1h-1zM28 73h1v1h-1zM29 73h1v1h-1zM4 74h1v1h-1zM10 74h1v1h-1zM19 74h1v1h-1zM28 74h1v1h-1zM5 75h1v1h-1zM6 75h1v1h-1zM10 75h1v1h-1zM17 75h1v1h-1zM24 75h1v1h-1zM28 75h1v1h-1zM0 76h1v1h-1zM12 76h1v1h-1zM22 76h1v1h-1zM25 76h1v1h-1zM26 76h1v1h-1zM0 77h1v1h-1zM4 77h1v1h-1zM8 77h1v1h-1zM13 77h1v1h-1zM23 77h1v1h-1zM24 77h1v1h-1zM29 77h1v1h-1zM11 78h1v1h-1zM13 78h1v1h-1zM20 78h1v1h-1zM22 78h1v1h-1zM9 79h1v1h-1zM15 79h1v1h-1zM24 79h1v1h-1zM9 80h1v1h-1zM10 80h1v1h-1zM12 80h1v1h-1zM19 80h1v1h-1zM21 80h1v1h-1zM26 80h1v1h-1zM8 81h1v1h-1zM14 81h1v1h-1zM16 81h1v1h-1zM18 81h1v1h-1zM0 82h1v1h-1zM24 82h1v1h-1zM27 82h1v1h-1zM28 82h1v1h-1zM0 83h1v1h-1zM18 83h1v1h-1zM22 83h1v1h-1zM29 83h1v1h-1zM3 84h1v1h-1zM4 84h1v1h-1zM5 84h1v1h-1zM11 84h1v1h-1zM13 84h1v1h-1zM16 84h1v1h-1zM4 85h1v1h-1zM9 85h1v1h-1zM12 85h1v1h-1zM14 85h1v1h-1zM17 85h1v1h-1zM6 86h1v1h-1zM8 86h1v1h-1zM18 86h1v1h-1zM27 86h1v1h-1zM3 87h1v1h-1zM12 87h1v1h-1zM17 87h1v1h-1zM1 88h1v1h-1zM12 88h1v1h-1zM20 88h1v1h-1zM29 88h1v1h-1zM3 89h1v1h-1zM7 89h1v1h-1zM13 89h1v1h-1zM16 89h1v1h-1zM17 89h1v1h-1zM20 89h1v1h-1zM12 90h1v1h-1zM23 90h1v1h-1zM25 90h1v1h-1zM27 90h1v1h-1zM28 90h1v1h-1zM1 91h1v1h-1zM4 91h1v1h-1zM9 91h1v1h-1zM19 91h1v1h-1zM26 91h1v1h-1zM28 91h1v1h-1zM10 92h1v1h-1zM22 92h1v1h-1zM0 93h1v1h-1zM3 93h1v1h-1zM5 93h1v1h-1zM7 93h1v1h-1zM10 93h1v1h-1zM22 93h1v1h-1zM29 93h1v1h-1zM5 94h1v1h-1zM23 94h1v1h-1zM5 95h1v1h-1zM17 95h1v1h-1zM20 95h1v1h-1zM26 95h1v1h-1zM0 96h1v1h-1zM7 96h1v1h-1zM23 96h1v1h-1zM4 97h1v1h-1zM22 97h1v1h-1zM4 98h1v1h-1zM8 98h1v1h-1zM13 98h1v1h-1zM20 98h1v1h-1zM23 98h1v1h-1zM4 99h1v1h-1zM6 99h1v1h-1zM16 99h1v1h-1zM17 99h1v1h-1zM18 99h1v1h-1zM20 99h1v1h-1zM21 99h1v1h-1zM22 99h1v1h-1zM0 100h1v1h-1zM9 100h1v1h-1zM12 100h1v1h-1zM23 100h1v1h-1zM25 100h1v1h-1zM29 100h1v1h-1zM26 101h1v1h-1zM3 102h1v1h-1zM8 102h1v1h-1zM11 102h1v1h-1zM17 102h1v1h-1zM20 102h1v1h-1zM21 102h1v1h-1zM22 102h1v1h-1zM0 103h1v1h-1zM7 103h1v1h-1zM10 103h1v1h-1zM12 103h1v1h-1zM13 103h1v1h-1zM16 103h1v1h-1zM19 103h1v1h-1zM20 103h1v1h-1zM26 103h1v1h-1zM28 103h1v1h-1zM1 104h1v1h-1zM11 104h1v1h-1zM14 104h1v1h-1zM20 104h1v1h-1zM10 105h1v1h-1zM16 105h1v1h-1zM22 105h1v1h-1zM27 105h1v1h-1zM7 106h1v1h-1zM11 106h1v1h-1zM17 106h1v1h-1zM19 106h1v1h-1zM21 106h1v1h-1zM0 107h1v1h-1zM3 107h1v1h-1zM26 107h1v1h-1zM9 108h1v1h-1zM13 108h1v1h-1zM18 108h1v1h-1zM20 108h1v1h-1zM27 108h1v1h-1zM7 109h1v1h-1zM26 109h1v1h-1zM0 110h1v1h-1zM1 110h1v1h-1zM20 110h1v1h-1zM21 110h1v1h-1zM26 110h1v1h-1zM11 111h1v1h-1zM13 111h1v1h-1zM1 112h1v1h-1zM19 112h1v1h-1zM25 112h1v1h-1zM26 112h1v1h-1zM2 113h1v1h-1zM6 113h1v1h-1zM22 113h1v1h-1zM5 114h1v1h-1zM26 114h1v1h-1zM2 115h1v1h-1zM6 115h1v1h-1zM15 115h1v1h-1zM18 115h1v1h-1zM20 115h1v1h-1zM27 115h1v1h-1zM7 116h1v1h-1zM12 116h1v1h-1zM27 116h1v1h-1zM2 117h1v1h-1zM8 117h1v1h-1zM10 117h1v1h-1zM13 117h1v1h-1zM18 117h1v1h-1zM24 117h1v1h-1zM0 118h1v1h-1zM8 118h1v1h-1zM15 118h1v1h-1zM20 118h1v1h-1zM29 118h1v1h-1zM6 119h1v1h-1zM9 119h1v1h-1zM16 119h1v1h-1zM17 119h1v1h-1zM20 119h1v1h-1zM21 119h1v1h-1zM0 120h1v1h-1zM8 120h1v1h-1zM18 120h1v1h-1zM26 120h1v1h-1zM5 121h1v1h-1zM8 121h1v1h-1zM9 121h1v1h-1zM11 121h1v1h-1zM19 121h1v1h-1zM21 121h1v1h-1zM26 121h1v1h-1zM27 122h1v1h-1zM1 123h1v1h-1zM7 123h1v1h-1zM15 123h1v1h-1zM16 123h1v1h-1zM28 123h1v1h-1zM3 124h1v1h-1zM11 124h1v1h-1zM20 124h1v1h-1zM22 124h1v1h-1zM27 124h1v1h-1zM17 125h1v1h-1zM24 125h1v1h-1zM19 126h1v1h-1zM21 126h1v1h-1zM28 126h1v1h-1zM7 127h1v1h-1zM15 127h1v1h-1zM24 127h1v1h-1zM29 127h1v1h-1zM13 128h1v1h-1zM28 129h1v1h-1zM8 130h1v1h-1zM12 130h1v1h-1zM18 130h1v1h-1zM2 131h1v1h-1zM14 131h1v1h-1zM18 131h1v1h-1zM22 131h1v1h-1zM23 131h1v1h-1zM25 131h1v1h-1zM5 132h1v1h-1zM10 132h1v1h-1zM18 132h1v1h-1zM20 132h1v1h-1zM28 132h1v1h-1zM11 133h1v1h-1zM2 134h1v1h-1zM13 134h1v1h-1zM15 134h1v1h-1zM19 134h1v1h-1zM9 135h1v1h-1zM18 135h1v1h-1zM23 135h1v1h-1zM29 135h1v1h-1zM4 136h1v1h-1zM5 136h1v1h-1zM14 136h1v1h-1zM23 136h1v1h-1zM26 136h1v1h-1zM21 137h1v1h-1zM24 137h1v1h-1zM15 138h1v1h-1zM24 138h1v1h-1zM0 139h1v1h-1zM18 139h1v1h-1zM19 139h1v1h-1zM20 139h1v1h-1zM23 139h1v1h-1z" fill="#b8b8b8"/><path d="M4 0h1v1h-1zM7 0h1v1h-1zM18 0h1v1h-1zM29 0h1v1h-1zM2 1h1v1h-1zM9 1h1v1h-1zM10 1h1v1h-1zM15 1h1v1h-1zM16 1h1v1h-1zM25 1h1v1h-1zM29 1h1v1h-1zM4 2h1v1h-1zM5 2h1v1h-1zM8 2h1v1h-1zM19 2h1v1h-1zM0 3h1v1h-1zM13 3h1v1h-1zM14 3h1v1h-1zM19 3h1v1h-1zM22 3h1v1h-1zM24 4h1v1h-1zM25 4h1v1h-1zM4 5h1v1h-1zM6 5h1v1h-1zM8 5h1v1h-1zM16 5h1v1h-1zM27 5h1v1h-1zM17 6h1v1h-1zM25 6h1v1h-1zM15 7h1v1h-1zM20 7h1v1h-1zM29 7h1v1h-1zM5 8h1v1h-1zM6 8h1v1h-1zM10 8h1v1h-1zM11 8h1v1h-1zM12 8h1v1h-1zM19 8h1v1h-1zM21 8h1v1h-1zM23 8h1v1h-1zM24 8h1v1h-1zM27 8h1v1h-1zM1 9h1v1h-1zM2 9h1v1h-1zM7 9h1v1h-1zM8 9h1v1h-1zM10 9h1v1h-1zM11 9h1v1h-1zM12 9h1v1h-1zM18 9h1v1h-1zM9 10h1v1h-1zM14 10h1v1h-1zM20 10h1v1h-1zM25 10h1v1h-1zM12 11h1v1h-1zM26 11h1v1h-1zM28 11h1v1h-1zM2 12h1v1h-1zM12 12h1v1h-1zM19 12h1v1h-1zM21 12h1v1h-1zM26 12h1v1h-1zM29 12h1v1h-1zM21 13h1v1h-1zM27 13h1v1h-1zM4 14h1v1h-1zM5 14h1v1h-1zM7 14h1v1h-1zM16 14h1v1h-1zM17 14h1v1h-1zM5 15h1v1h-1zM6 15h1v1h-1zM10 15h1v1h-1zM20 15h1v1h-1zM24 15h1v1h-1zM28 15h1v1h-1zM29 15h1v1h-1zM10 16h1v1h-1zM12 16h1v1h-1zM22 16h1v1h-1zM0 17h1v1h-1zM1 17h1v1h-1zM2 17h1v1h-1zM9 17h1v1h-1zM17 17h1v1h-1zM19 17h1v1h-1zM23 17h1v1h-1zM28 17h1v1h-1zM1 18h1v1h-1zM2 18h1v1h-1zM19 18h1v1h-1zM0 19h1v1h-1zM9 19h1v1h-1zM13 19h1v1h-1zM20 19h1v1h-1zM28 19h1v1h-1zM4 20h1v1h-1zM16 20h1v1h-1zM21 20h1v1h-1zM28 20h1v1h-1zM13 21h1v1h-1zM14 21h1v1h-1zM24 21h1v1h-1zM0 22h1v1h-1zM1 22h1v1h-1zM14 22h1v1h-1zM15 22h1v1h-1zM21 22h1v1h-1zM25 22h1v1h-1zM2 23h1v1h-1zM16 23h1v1h-1zM26 23h1v1h-1zM7 25h1v1h-1zM9 26h1v1h-1zM15 26h1v1h-1zM3 27h1v1h-1zM11 27h1v1h-1zM24 27h1v1h-1zM2 28h1v1h-1zM6 28h1v1h-1zM12 28h1v1h-1zM21 28h1v1h-1zM17 29h1v1h-1zM21 29h1v1h-1zM1 30h1v1h-1zM16 30h1v1h-1zM19 30h1v1h-1zM25 30h1v1h-1zM28 30h1v1h-1zM1 31h1v1h-1zM8 31h1v1h-1zM24 31h1v1h-1zM1 32h1v1h-1zM7 32h1v1h-1zM11 32h1v1h-1zM18 32h1v1h-1zM22 32h1v1h-1zM24 32h1v1h-1zM0 33h1v1h-1zM6 33h1v1h-1zM8 33h1v1h-1zM18 33h1v1h-1zM2 34h1v1h-1zM6 34h1v1h-1zM17 34h1v1h-1zM21 34h1v1h-1zM22 34h1v1h-1zM1 35h1v1h-1zM12 35h1v1h-1zM20 35h1v1h-1zM1 36h1v1h-1zM2 36h1v1h-1zM5 36h1v1h-1zM18 36h1v1h-1zM27 36h1v1h-1zM3 37h1v1h-1zM8 37h1v1h-1zM21 37h1v1h-1zM23 37h1v1h-1zM4 38h1v1h-1zM7 38h1v1h-1zM28 38h1v1h-1zM4 39h1v1h-1zM25 40h1v1h-1zM4 41h1v1h-1zM15 41h1v1h-1zM16 41h1v1h-1zM19 41h1v1h-1zM27 41h1v1h-1zM15 42h1v1h-1zM19 42h1v1h-1zM20 42h1v1h-1zM3 43h1v1h-1zM5 43h1v1h-1zM16 43h1v1h-1zM9 44h1v1h-1zM11 44h1v1h-1zM18 44h1v1h-1zM29 44h1v1h-1zM9 45h1v1h-1zM18 45h1v1h-1zM21 45h1v1h-1zM25 45h1v1h-1zM27 45h1v1h-1zM28 45h1v1h-1zM0 46h1v1h-1zM3 46h1v1h-1zM25 46h1v1h-1zM4 47h1v1h-1zM5 47h1v1h-1zM12 47h1v1h-1zM14 47h1v1h-1zM29 47h1v1h-1zM6 49h1v1h-1zM10 49h1v1h-1zM14 49h1v1h-1zM16 49h1v1h-1zM18 49h1v1h-1zM19 49h1v1h-1zM20 49h1v1h-1zM24 49h1v1h-1zM25 49h1v1h-1zM10 50h1v1h-1zM11 50h1v1h-1zM19 50h1v1h-1zM20 50h1v1h-1zM25 50h1v1h-1zM0 51h1v1h-1zM2 51h1v1h-1zM9 51h1v1h-1zM15 51h1v1h-1zM3 52h1v1h-1zM14 52h1v1h-1zM23 52h1v1h-1zM27 52h1v1h-1zM5 53h1v1h-1zM2 54h1v1h-1zM16 54h1v1h-1zM19 54h1v1h-1zM2 55h1v1h-1zM25 55h1v1h-1zM2 56h1v1h-1zM10 56h1v1h-1zM18 56h1v1h-1zM23 56h1v1h-1zM28 56h1v1h-1zM1 57h1v1h-1zM2 57h1v1h-1zM3 57h1v1h-1zM9 57h1v1h-1zM11 57h1v1h-1zM22 57h1v1h-1zM27 57h1v1h-1zM28 57h1v1h-1zM12 58h1v1h-1zM14 58h1v1h-1zM23 58h1v1h-1zM26 59h1v1h-1zM16 60h1v1h-1zM19 60h1v1h-1zM25 60h1v1h-1zM5 61h1v1h-1zM14 61h1v1h-1zM5 62h1v1h-1zM10 62h1v1h-1zM19 62h1v1h-1zM25 62h1v1h-1zM6 63h1v1h-1zM9 63h1v1h-1zM19 63h1v1h-1zM21 63h1v1h-1zM3 64h1v1h-1zM4 64h1v1h-1zM5 64h1v1h-1zM6 64h1v1h-1zM20 64h1v1h-1zM21 64h1v1h-1zM28 64h1v1h-1zM29 64h1v1h-1zM7 65h1v1h-1zM15 65h1v1h-1zM29 65h1v1h-1zM6 66h1v1h-1zM9 66h1v1h-1zM24 66h1v1h-1zM28 66h1v1h-1zM7 67h1v1h-1zM9 67h1v1h-1zM10 67h1v1h-1zM19 67h1v1h-1zM22 67h1v1h-1zM26 67h1v1h-1zM27 67h1v1h-1zM29 67h1v1h-1zM3 68h1v1h-1zM5 68h1v1h-1zM10 68h1v1h-1zM11 68h1v1h-1zM5 69h1v1h-1zM9 69h1v1h-1zM17 69h1v1h-1zM18 69h1v1h-1zM20 69h1v1h-1zM26 69h1v1h-1zM27 69h1v1h-1zM1 70h1v1h-1zM6 70h1v1h-1zM11 70h1v1h-1zM12 70h1v1h-1zM24 70h1v1h-1zM25 70h1v1h-1zM28 70h1v1h-1zM0 71h1v1h-1zM1 71h1v1h-1zM9 71h1v1h-1zM13 71h1v1h-1zM14 71h1v1h-1zM17 71h1v1h-1zM22 71h1v1h-1zM28 71h1v1h-1zM8 72h1v1h-1zM9 72h1v1h-1zM25 72h1v1h-1zM28 72h1v1h-1zM29 72h1v1h-1zM2 73h1v1h-1zM4 73h1v1h-1zM12 73h1v1h-1zM26 73h1v1h-1zM2 74h1v1h-1zM16 74h1v1h-1zM24 74h1v1h-1zM2 75h1v1h-1zM4 75h1v1h-1zM4 76h1v1h-1zM6 76h1v1h-1zM11 76h1v1h-1zM18 76h1v1h-1zM19 76h1v1h-1zM24 76h1v1h-1zM3 77h1v1h-1zM5 77h1v1h-1zM17 78h1v1h-1zM21 79h1v1h-1zM25 79h1v1h-1zM3 80h1v1h-1zM6 80h1v1h-1zM18 80h1v1h-1zM25 80h1v1h-1zM28 80h1v1h-1zM3 81h1v1h-1zM17 81h1v1h-1zM27 81h1v1h-1zM29 81h1v1h-1zM2 82h1v1h-1zM29 82h1v1h-1zM4 83h1v1h-1zM10 83h1v1h-1zM11 83h1v1h-1zM14 83h1v1h-1zM2 84h1v1h-1zM12 84h1v1h-1zM17 84h1v1h-1zM29 84h1v1h-1zM1 85h1v1h-1zM13 85h1v1h-1zM15 85h1v1h-1zM16 85h1v1h-1zM21 85h1v1h-1zM26 85h1v1h-1zM28 85h1v1h-1zM29 85h1v1h-1zM1 86h1v1h-1zM3 86h1v1h-1zM4 86h1v1h-1zM10 86h1v1h-1zM21 86h1v1h-1zM7 87h1v1h-1zM24 87h1v1h-1zM3 88h1v1h-1zM9 88h1v1h-1zM15 88h1v1h-1zM22 88h1v1h-1zM0 89h1v1h-1zM10 89h1v1h-1zM14 89h1v1h-1zM15 89h1v1h-1zM19 89h1v1h-1zM22 89h1v1h-1zM29 89h1v1h-1zM1 90h1v1h-1zM2 90h1v1h-1zM6 90h1v1h-1zM21 90h1v1h-1zM24 90h1v1h-1zM0 91h1v1h-1zM8 91h1v1h-1zM10 91h1v1h-1zM17 91h1v1h-1zM21 91h1v1h-1zM24 91h1v1h-1zM1 92h1v1h-1zM25 92h1v1h-1zM11 93h1v1h-1zM14 93h1v1h-1zM17 93h1v1h-1zM0 94h1v1h-1zM1 94h1v1h-1zM2 94h1v1h-1zM14 94h1v1h-1zM16 94h1v1h-1zM20 94h1v1h-1zM1 95h1v1h-1zM2 95h1v1h-1zM15 95h1v1h-1zM19 95h1v1h-1zM29 95h1v1h-1zM15 96h1v1h-1zM24 96h1v1h-1zM29 96h1v1h-1zM0 97h1v1h-1zM2 98h1v1h-1zM11 98h1v1h-1zM18 98h1v1h-1zM21 98h1v1h-1zM3 99h1v1h-1zM5 99h1v1h-1zM10 99h1v1h-1zM11 99h1v1h-1zM11 100h1v1h-1zM17 100h1v1h-1zM26 100h1v1h-1zM1 101h1v1h-1zM6 101h1v1h-1zM8 101h1v1h-1zM9 101h1v1h-1zM13 101h1v1h-1zM14 101h1v1h-1zM15 101h1v1h-1zM20 101h1v1h-1zM5 102h1v1h-1zM6 102h1v1h-1zM12 102h1v1h-1zM18 102h1v1h-1zM25 102h1v1h-1zM21 103h1v1h-1zM2 104h1v1h-1zM3 104h1v1h-1zM8 104h1v1h-1zM9 104h1v1h-1zM12 104h1v1h-1zM15 104h1v1h-1zM16 104h1v1h-1zM23 104h1v1h-1zM3 105h1v1h-1zM7 105h1v1h-1zM11 105h1v1h-1zM17 105h1v1h-1zM25 105h1v1h-1zM26 105h1v1h-1zM6 106h1v1h-1zM8 106h1v1h-1zM9 106h1v1h-1zM10 106h1v1h-1zM15 106h1v1h-1zM18 106h1v1h-1zM20 106h1v1h-1zM28 106h1v1h-1zM11 107h1v1h-1zM13 107h1v1h-1zM8 108h1v1h-1zM10 108h1v1h-1zM23 108h1v1h-1zM25 108h1v1h-1zM5 109h1v1h-1zM9 109h1v1h-1zM12 109h1v1h-1zM15 109h1v1h-1zM8 110h1v1h-1zM10 110h1v1h-1zM13 110h1v1h-1zM15 110h1v1h-1zM19 110h1v1h-1zM29 110h1v1h-1zM4 111h1v1h-1zM5 111h1v1h-1zM7 111h1v1h-1zM9 111h1v1h-1zM10 111h1v1h-1zM18 111h1v1h-1zM22 111h1v1h-1zM24 111h1v1h-1zM2 112h1v1h-1zM6 112h1v1h-1zM21 112h1v1h-1zM10 113h1v1h-1zM11 113h1v1h-1zM11 114h1v1h-1zM20 114h1v1h-1zM22 114h1v1h-1zM11 115h1v1h-1zM17 115h1v1h-1zM13 116h1v1h-1zM15 116h1v1h-1zM20 116h1v1h-1zM24 116h1v1h-1zM29 116h1v1h-1zM1 117h1v1h-1zM14 117h1v1h-1zM17 117h1v1h-1zM23 117h1v1h-1zM5 118h1v1h-1zM6 118h1v1h-1zM14 118h1v1h-1zM26 118h1v1h-1zM1 119h1v1h-1zM26 119h1v1h-1zM3 120h1v1h-1zM4 120h1v1h-1zM10 120h1v1h-1zM17 120h1v1h-1zM23 120h1v1h-1zM14 121h1v1h-1zM15 121h1v1h-1zM22 121h1v1h-1zM25 121h1v1h-1zM27 121h1v1h-1zM5 122h1v1h-1zM8 123h1v1h-1zM17 123h1v1h-1zM23 123h1v1h-1zM27 123h1v1h-1zM2 124h1v1h-1zM4 124h1v1h-1zM5 124h1v1h-1zM14 124h1v1h-1zM16 124h1v1h-1zM19 124h1v1h-1zM26 124h1v1h-1zM2 125h1v1h-1zM27 125h1v1h-1zM2 126h1v1h-1zM6 126h1v1h-1zM10 126h1v1h-1zM11 126h1v1h-1zM27 126h1v1h-1zM2 127h1v1h-1zM5 127h1v1h-1zM10 127h1v1h-1zM20 127h1v1h-1zM21 127h1v1h-1zM28 127h1v1h-1zM5 128h1v1h-1zM11 129h1v1h-1zM18 129h1v1h-1zM20 129h1v1h-1zM26 129h1v1h-1zM4 130h1v1h-1zM11 130h1v1h-1zM0 131h1v1h-1zM1 131h1v1h-1zM15 132h1v1h-1zM21 132h1v1h-1zM24 132h1v1h-1zM26 132h1v1h-1zM5 134h1v1h-1zM3 135h1v1h-1zM11 135h1v1h-1zM24 135h1v1h-1zM7 136h1v1h-1zM16 136h1v1h-1zM20 136h1v1h-1zM27 136h1v1h-1zM29 136h1v1h-1zM3 137h1v1h-1zM9 137h1v1h-1zM17 137h1v1h-1zM20 137h1v1h-1zM27 137h1v1h-1zM1 138h1v1h-1zM3 138h1v1h-1zM5 138h1v1h-1zM7 138h1v1h-1zM28 138h1v1h-1zM5 139h1v1h-1zM6 139h1v1h-1zM8 139h1v1h-1zM15 139h1v1h-1zM29 139h1v1h-1z" fill="#fff"/></pattern>
<filter id="bl" x="-2%" y="-2%" width="104%" height="104%"><feGaussianBlur stdDeviation="0.8" result="b"/><feComposite in="SourceGraphic" in2="b" operator="arithmetic" k2="0.5" k3="0.5"/></filter>
<filter id="ro" x="-5%" y="-5%" width="110%" height="110%"><feTurbulence type="fractalNoise" baseFrequency="0.18" numOctaves="2" seed="4" result="t"/><feDisplacementMap in="SourceGraphic" in2="t" scale="5" xChannelSelector="R" yChannelSelector="G" result="d"/><feGaussianBlur in="d" stdDeviation="0.8" result="b"/><feComposite in="d" in2="b" operator="arithmetic" k2="0.4" k3="0.6"/></filter>
<clipPath id="cpT"><rect x="353.5" y="39.7" width="146.6" height="68.8"/></clipPath>
<clipPath id="cpB"><rect x="352.2" y="114.800" width="147.3" height="72"/></clipPath>
<clipPath id="cpL"><circle cx="389.2" cy="150.800" r="33"/></clipPath>
<clipPath id="cpR"><circle cx="462.500" cy="150.3" r="32.6"/></clipPath>
<linearGradient id="gT" x1="0" y1="0" x2="1" y2="0"><stop offset="0" stop-color="#d8d8d8"/><stop offset="1" stop-color="#e4e4e4"/></linearGradient>
</defs>
<rect width="520" height="694" fill="#fff"/>
<path d="M0 0H520V694H0zM1.3 1.5V692.3H518.6V1.5z" fill="#686868" fill-rule="evenodd"/>
<text x="20.6" y="32.5" font-size="16.5" text-anchor="start" >A</text>
<line x1="88.1" y1="31.2" x2="88.1" y2="195.9" stroke="#000" stroke-width="2" />
<line x1="81.5" y1="194.9" x2="159" y2="194.9" stroke="#000" stroke-width="2.1" />
<line x1="80.1" y1="32" x2="88.1" y2="32" stroke="#000" stroke-width="1.6" />
<text x="76" y="36.4" font-size="11" text-anchor="end" >1.5</text>
<line x1="80.1" y1="86" x2="88.1" y2="86" stroke="#000" stroke-width="1.6" />
<text x="76" y="90.4" font-size="11" text-anchor="end" >1</text>
<line x1="80.1" y1="140.2" x2="88.1" y2="140.2" stroke="#000" stroke-width="1.6" />
<text x="76" y="144.6" font-size="11" text-anchor="end" >0.5</text>
<line x1="80.1" y1="194.9" x2="88.1" y2="194.9" stroke="#000" stroke-width="1.6" />
<text x="76" y="199.3" font-size="11" text-anchor="end" >0</text>
<line x1="107.5" y1="184" x2="107.5" y2="186" stroke="#000" stroke-width="1.1" />
<line x1="105.3" y1="184" x2="109.7" y2="184" stroke="#000" stroke-width="1.1" />
<rect x="95.5" y="186" width="24.5" height="8.900000000000006" fill="#000" />
<line x1="139.5" y1="62.5" x2="139.5" y2="67" stroke="#000" stroke-width="1.1" />
<line x1="137.3" y1="62.5" x2="141.7" y2="62.5" stroke="#000" stroke-width="1.1" />
<rect x="128.3" y="67.5" width="22.700000000000003" height="127.4" fill="url(#nz)" stroke="#000" stroke-width="2" />
<text x="105.2" y="209.4" font-size="11.6" text-anchor="middle" >CT</text>
<text x="139" y="209.4" font-size="11.6" text-anchor="middle" >C7</text>
<text x="140" y="57" font-size="16.5" text-anchor="middle" letter-spacing="1">***</text>
<text x="38" y="113" font-size="11.7" text-anchor="middle" transform="rotate(-90 38 113)" class="r" >CXCL7 amounts</text>
<text x="50.7" y="113" font-size="11.7" text-anchor="middle" transform="rotate(-90 50.7 113)" class="r" >(ng/mL/24 h/10<tspan font-size="8" dy="-3.5">6</tspan><tspan dy="3.5"> cells)</tspan></text>
<text x="174.8" y="32.5" font-size="16.5" text-anchor="start" >B</text>
<line x1="225.9" y1="31.2" x2="225.9" y2="196.1" stroke="#000" stroke-width="2" />
<line x1="217.7" y1="195.1" x2="305.5" y2="195.1" stroke="#000" stroke-width="2.1" />
<line x1="217.7" y1="32.0" x2="225.9" y2="32.0" stroke="#000" stroke-width="1.6" />
<text x="213.9" y="36.4" font-size="11" text-anchor="end" >1.6</text>
<line x1="217.7" y1="52.4" x2="225.9" y2="52.4" stroke="#000" stroke-width="1.6" />
<text x="213.9" y="56.8" font-size="11" text-anchor="end" >1.4</text>
<line x1="217.7" y1="72.8" x2="225.9" y2="72.8" stroke="#000" stroke-width="1.6" />
<text x="213.9" y="77.2" font-size="11" text-anchor="end" >1.2</text>
<line x1="217.7" y1="93.19999999999999" x2="225.9" y2="93.19999999999999" stroke="#000" stroke-width="1.6" />
<text x="213.9" y="97.6" font-size="11" text-anchor="end" >1</text>
<line x1="217.7" y1="113.6" x2="225.9" y2="113.6" stroke="#000" stroke-width="1.6" />
<text x="213.9" y="118.0" font-size="11" text-anchor="end" >0.8</text>
<line x1="217.7" y1="134.0" x2="225.9" y2="134.0" stroke="#000" stroke-width="1.6" />
<text x="213.9" y="138.4" font-size="11" text-anchor="end" >0.6</text>
<line x1="217.7" y1="154.39999999999998" x2="225.9" y2="154.39999999999998" stroke="#000" stroke-width="1.6" />
<text x="213.9" y="158.79999999999998" font-size="11" text-anchor="end" >0.4</text>
<line x1="217.7" y1="174.79999999999998" x2="225.9" y2="174.79999999999998" stroke="#000" stroke-width="1.6" />
<text x="213.9" y="179.2" font-size="11" text-anchor="end" >0.2</text>
<line x1="217.7" y1="195.2" x2="225.9" y2="195.2" stroke="#000" stroke-width="1.6" />
<text x="213.9" y="199.6" font-size="11" text-anchor="end" >0</text>
<line x1="249.3" y1="135.4" x2="249.3" y2="140" stroke="#000" stroke-width="1.1" />
<line x1="247.10000000000002" y1="135.4" x2="251.5" y2="135.4" stroke="#000" stroke-width="1.1" />
<rect x="237" y="139.7" width="24.69999999999999" height="55.400000000000006" fill="#000" />
<line x1="284.6" y1="50" x2="284.6" y2="63" stroke="#000" stroke-width="1.1" />
<line x1="282.40000000000003" y1="50" x2="286.8" y2="50" stroke="#000" stroke-width="1.1" />
<rect x="273.2" y="62.5" width="22.69999999999999" height="132.6" fill="url(#nz)" stroke="#000" stroke-width="2" />
<text x="246.6" y="209.4" font-size="11.5" text-anchor="middle" >CT</text>
<text x="283.7" y="209.4" font-size="11.5" text-anchor="middle" >C7</text>
<text x="286" y="49.5" font-size="16.5" text-anchor="middle" letter-spacing="1">**</text>
<text x="189.7" y="114" font-size="11.7" text-anchor="middle" transform="rotate(-90 189.7 114)" class="r" >Cell number ×10<tspan font-size="8" dy="-3.5">6</tspan></text>
<text x="334" y="32.6" font-size="16.5" text-anchor="start" >C</text>
<text x="332" y="80.5" font-size="12.3" text-anchor="start" >CT</text>
<text x="332" y="157.7" font-size="12.3" text-anchor="start" >C7</text>
<g filter="url(#bl)">
<g clip-path="url(#cpT)">
<rect x="353.5" y="39.7" width="146.6" height="68.8" fill="url(#gT)" />
<rect x="353.5" y="39.7" width="4" height="68.8" fill="#cfcfcf" />
<circle cx="391" cy="75.5" r="35.6" fill="#aeaeae" stroke="#858585" stroke-width="0.9"/>
<circle cx="391" cy="75.5" r="34" fill="none" stroke="#fafafa" stroke-width="2.4"/>
<path d="M368 52 A30 30 0 0 0 366 97" fill="none" stroke="#ececec" stroke-width="2.2"/>
<circle cx="395.6" cy="76.2" r="30.6" fill="#d9d9d9" stroke="#c0c0c0" stroke-width="0.8"/>
<g filter="url(#ro)">
<circle cx="397.1" cy="96.1" r="1.2" fill="#b4b4b4"/>
<circle cx="378.6" cy="63.2" r="1.0" fill="#b4b4b4"/>
<circle cx="420.2" cy="78.2" r="1.1" fill="#b4b4b4"/>
<circle cx="398.2" cy="103.0" r="1.3" fill="#b4b4b4"/>
<circle cx="405.2" cy="60.2" r="1.5" fill="#b4b4b4"/>
<circle cx="408.2" cy="93.7" r="1.7" fill="#b4b4b4"/>
<circle cx="372.6" cy="72.8" r="1.5" fill="#b4b4b4"/>
<circle cx="417.2" cy="85.4" r="1.4" fill="#b4b4b4"/>
<circle cx="394.1" cy="80.7" r="1.7" fill="#b4b4b4"/>
<circle cx="373.0" cy="80.1" r="1.7" fill="#b4b4b4"/>
<circle cx="389.8" cy="50.9" r="1.3" fill="#b4b4b4"/>
<circle cx="401.3" cy="59.1" r="1.7" fill="#b4b4b4"/>
<circle cx="401.7" cy="70.4" r="1.0" fill="#b4b4b4"/>
<circle cx="401.1" cy="102.2" r="1.3" fill="#b4b4b4"/>
<circle cx="385.2" cy="65.6" r="1.4" fill="#b4b4b4"/>
<circle cx="383.5" cy="86.7" r="1.4" fill="#b4b4b4"/>
<circle cx="373.4" cy="63.2" r="1.5" fill="#b4b4b4"/>
<circle cx="418.1" cy="65.4" r="1.8" fill="#b4b4b4"/>
<circle cx="390.4" cy="66.6" r="1.7" fill="#b4b4b4"/>
<circle cx="420.6" cy="70.5" r="1.4" fill="#b4b4b4"/>
<circle cx="392.8" cy="64.1" r="1.6" fill="#b4b4b4"/>
<circle cx="382.7" cy="69.8" r="1.0" fill="#b4b4b4"/>
</g>
<circle cx="395.4" cy="55.2" r="3" fill="#9c9c9c"/>
<circle cx="384.6" cy="56" r="2" fill="#aaa"/>
<circle cx="380.8" cy="72.9" r="2.5" fill="#a4a4a4"/>
<circle cx="373" cy="73.7" r="2.5" fill="#a8a8a8"/>
<circle cx="389.7" cy="71.4" r="1.6" fill="#999"/>
<circle cx="400" cy="76.8" r="2.6" fill="#a6a6a6"/>
<circle cx="400.8" cy="68.3" r="2" fill="#b0b0b0"/>
<circle cx="390.8" cy="79.8" r="1.8" fill="#9e9e9e"/>
<circle cx="396.2" cy="99" r="3" fill="#a0a0a0"/>
<circle cx="383" cy="89.8" r="2" fill="#b0b0b0"/>
<circle cx="391.5" cy="88.3" r="1.5" fill="#a8a8a8"/>
<circle cx="410.8" cy="80.6" r="2" fill="#b4b4b4"/>
<circle cx="410" cy="93" r="1.5" fill="#a8a8a8"/>
<circle cx="412.3" cy="57.5" r="1.6" fill="#b0b0b0"/>
<circle cx="374.6" cy="64.5" r="1.6" fill="#b0b0b0"/>
<circle cx="387" cy="82" r="1.2" fill="#999"/>
<circle cx="403" cy="60" r="1.5" fill="#b5b5b5"/>
<circle cx="379" cy="96" r="1.5" fill="#b8b8b8"/>
<circle cx="405" cy="88" r="1.4" fill="#b0b0b0"/>
<circle cx="464.8" cy="75.2" r="34.8" fill="#d5d5d5" stroke="#a8a8a8" stroke-width="0.8"/>
<circle cx="464.8" cy="75.2" r="33.3" fill="none" stroke="#f8f8f8" stroke-width="2.1"/>
<circle cx="464.8" cy="75.2" r="32" fill="none" stroke="#bcbcbc" stroke-width="0.7"/>
<g filter="url(#ro)">
<circle cx="482.9" cy="51.5" r="1.1" fill="#c6c6c6"/>
<circle cx="470.8" cy="56.9" r="1.2" fill="#c6c6c6"/>
<circle cx="457.6" cy="100.5" r="1.9" fill="#c6c6c6"/>
<circle cx="487.4" cy="81.6" r="1.0" fill="#c6c6c6"/>
<circle cx="461.4" cy="58.3" r="1.9" fill="#c6c6c6"/>
<circle cx="486.0" cy="72.6" r="2.0" fill="#c6c6c6"/>
<circle cx="461.8" cy="82.9" r="1.6" fill="#c6c6c6"/>
<circle cx="477.9" cy="77.8" r="1.4" fill="#c6c6c6"/>
<circle cx="455.7" cy="67.6" r="1.0" fill="#c6c6c6"/>
<circle cx="476.1" cy="62.8" r="2.0" fill="#c6c6c6"/>
<circle cx="479.5" cy="64.0" r="1.5" fill="#c6c6c6"/>
<circle cx="440.9" cy="72.2" r="1.6" fill="#c6c6c6"/>
<circle cx="442.8" cy="66.6" r="1.9" fill="#c6c6c6"/>
<circle cx="445.1" cy="74.3" r="1.7" fill="#c6c6c6"/>
<circle cx="466.1" cy="91.6" r="2.0" fill="#c6c6c6"/>
<circle cx="442.8" cy="72.3" r="1.0" fill="#c6c6c6"/>
<circle cx="445.1" cy="86.8" r="1.0" fill="#c6c6c6"/>
<circle cx="447.0" cy="59.3" r="1.1" fill="#c6c6c6"/>
<circle cx="450.5" cy="60.5" r="1.7" fill="#c6c6c6"/>
<circle cx="449.6" cy="95.4" r="1.7" fill="#c6c6c6"/>
<circle cx="472.1" cy="76.2" r="1.7" fill="#c6c6c6"/>
<circle cx="479.4" cy="71.8" r="1.5" fill="#c6c6c6"/>
</g>
<circle cx="463.2" cy="50.6" r="3.2" fill="#bdbdbd"/>
<circle cx="450.2" cy="60.6" r="2.5" fill="#c0c0c0"/>
<circle cx="471.7" cy="60.6" r="2" fill="#b8b8b8"/>
<circle cx="479.4" cy="60.6" r="2" fill="#bcbcbc"/>
<circle cx="454.8" cy="74.5" r="3" fill="#b6b6b6"/>
<circle cx="442.5" cy="76.8" r="3" fill="#b4b4b4"/>
<circle cx="441.7" cy="84.5" r="2.5" fill="#b8b8b8"/>
<circle cx="479.4" cy="75.2" r="2" fill="#bcbcbc"/>
<circle cx="471.7" cy="69" r="2" fill="#bebebe"/>
<circle cx="457.8" cy="97.5" r="2.5" fill="#bababa"/>
<circle cx="473.2" cy="102" r="2.5" fill="#b4b4b4"/>
<circle cx="474.8" cy="86.8" r="2" fill="#c0c0c0"/>
<circle cx="459.4" cy="89" r="2" fill="#c0c0c0"/>
<circle cx="491.7" cy="82.2" r="2" fill="#bcbcbc"/>
<path d="M426 76.3h6" stroke="#777" stroke-width="1.2"/><path d="M431.500 101.500l-1.200 4" stroke="#444" stroke-width="1.2"/>
<path d="M354 76h8" stroke="#888" stroke-width="1.2"/>
</g>
<g clip-path="url(#cpB)">
<rect x="352.2" y="114.8" width="147.3" height="72" fill="#c6c6c6" />
<circle cx="389.2" cy="150.8" r="34.2" fill="#a2a2a2" stroke="#fafafa" stroke-width="2.2"/>
<circle cx="389.2" cy="150.8" r="35.3" fill="none" stroke="#999" stroke-width="0.6"/>
<g clip-path="url(#cpL)"><g filter="url(#ro)">
<circle cx="389.5" cy="133.0" r="6.0" fill="#cdcdcd" fill-opacity="0.9"/>
<circle cx="405.0" cy="141.0" r="4.5" fill="#cdcdcd" fill-opacity="0.9"/>
<circle cx="383.0" cy="151.5" r="4.0" fill="#cdcdcd" fill-opacity="0.9"/>
<circle cx="399.0" cy="167.0" r="4.5" fill="#cdcdcd" fill-opacity="0.9"/>
<circle cx="378.0" cy="134.0" r="3.0" fill="#cdcdcd" fill-opacity="0.9"/>
<circle cx="396.0" cy="140.0" r="3.5" fill="#cdcdcd" fill-opacity="0.9"/>
<circle cx="373.6" cy="140.5" r="2.5" fill="#2c2c2c" fill-opacity="0.5750682644787644"/>
<circle cx="371.9" cy="169.5" r="2.4" fill="#2c2c2c" fill-opacity="0.6008641365315668"/>
<circle cx="390.0" cy="145.4" r="2.9" fill="#2c2c2c" fill-opacity="0.7440692726714038"/>
<circle cx="383.5" cy="165.3" r="3.4" fill="#2c2c2c" fill-opacity="0.5454780707591368"/>
<circle cx="397.5" cy="170.9" r="3.2" fill="#2c2c2c" fill-opacity="0.4907366770527486"/>
<circle cx="380.9" cy="167.9" r="3.5" fill="#2c2c2c" fill-opacity="0.6253722930245548"/>
<circle cx="397.6" cy="140.1" r="2.5" fill="#2c2c2c" fill-opacity="0.710092950516998"/>
<circle cx="405.8" cy="136.1" r="2.3" fill="#2c2c2c" fill-opacity="0.4983677298841146"/>
<circle cx="375.0" cy="148.1" r="3.4" fill="#2c2c2c" fill-opacity="0.7853905516112902"/>
<circle cx="396.3" cy="166.7" r="3.4" fill="#2c2c2c" fill-opacity="0.7067749025986612"/>
<circle cx="395.9" cy="132.6" r="2.1" fill="#2c2c2c" fill-opacity="0.5667771563482213"/>
<circle cx="393.9" cy="134.3" r="2.5" fill="#2c2c2c" fill-opacity="0.6167622783493958"/>
<circle cx="370.7" cy="161.0" r="3.6" fill="#2c2c2c" fill-opacity="0.5123991435753437"/>
<circle cx="421.2" cy="151.7" r="3.6" fill="#2c2c2c" fill-opacity="0.8447654620115183"/>
<circle cx="359.7" cy="163.7" r="3.7" fill="#2c2c2c" fill-opacity="0.5388362945089284"/>
<circle cx="388.3" cy="120.6" r="3.1" fill="#2c2c2c" fill-opacity="0.6576059906583014"/>
<circle cx="384.5" cy="169.5" r="2.3" fill="#2c2c2c" fill-opacity="0.4772270496427449"/>
<circle cx="374.2" cy="141.5" r="3.4" fill="#2c2c2c" fill-opacity="0.4680307240341439"/>
<circle cx="411.8" cy="135.1" r="3.6" fill="#2c2c2c" fill-opacity="0.8086268659936193"/>
<circle cx="409.4" cy="136.0" r="1.8" fill="#2c2c2c" fill-opacity="0.7481193069243846"/>
<circle cx="397.7" cy="166.7" r="3.1" fill="#2c2c2c" fill-opacity="0.6599856541663299"/>
<circle cx="361.8" cy="167.3" r="3.0" fill="#2c2c2c" fill-opacity="0.5865410629671981"/>
<circle cx="388.7" cy="181.4" r="2.8" fill="#2c2c2c" fill-opacity="0.7629300447147134"/>
<circle cx="380.4" cy="162.6" r="2.9" fill="#2c2c2c" fill-opacity="0.7767243388867691"/>
<circle cx="403.1" cy="176.6" r="3.6" fill="#2c2c2c" fill-opacity="0.7724204156651655"/>
<circle cx="390.5" cy="148.2" r="3.1" fill="#2c2c2c" fill-opacity="0.795021827221744"/>
<circle cx="405.6" cy="156.1" r="2.3" fill="#2c2c2c" fill-opacity="0.6609064713706733"/>
<circle cx="369.1" cy="161.4" r="3.4" fill="#2c2c2c" fill-opacity="0.4507234598905517"/>
<circle cx="400.3" cy="154.8" r="2.0" fill="#2c2c2c" fill-opacity="0.47736667538527533"/>
<circle cx="419.3" cy="146.0" r="2.0" fill="#2c2c2c" fill-opacity="0.6508480027019725"/>
<circle cx="381.8" cy="167.7" r="2.5" fill="#2c2c2c" fill-opacity="0.7087654453207135"/>
<circle cx="372.2" cy="140.5" r="2.2" fill="#2c2c2c" fill-opacity="0.5815105212590088"/>
<circle cx="406.7" cy="168.1" r="3.2" fill="#2c2c2c" fill-opacity="0.6020952248433015"/>
<circle cx="401.4" cy="157.5" r="2.5" fill="#2c2c2c" fill-opacity="0.6917739470311141"/>
<circle cx="393.3" cy="130.9" r="3.4" fill="#2c2c2c" fill-opacity="0.6991706040100365"/>
<circle cx="370.9" cy="159.2" r="2.8" fill="#2c2c2c" fill-opacity="0.7311522642223496"/>
<circle cx="365.1" cy="164.0" r="2.7" fill="#2c2c2c" fill-opacity="0.5480333185751707"/>
<circle cx="362.4" cy="144.7" r="1.9" fill="#2c2c2c" fill-opacity="0.6199554181827335"/>
<circle cx="361.5" cy="164.7" r="3.7" fill="#2c2c2c" fill-opacity="0.5996942787433011"/>
<circle cx="412.7" cy="133.2" r="2.3" fill="#2c2c2c" fill-opacity="0.635657285721765"/>
<circle cx="410.5" cy="171.6" r="3.1" fill="#2c2c2c" fill-opacity="0.8049374000137435"/>
<circle cx="396.3" cy="124.8" r="3.3" fill="#2c2c2c" fill-opacity="0.6755375818370918"/>
<circle cx="409.4" cy="166.1" r="1.8" fill="#2c2c2c" fill-opacity="0.50740734409085"/>
<circle cx="390.3" cy="143.9" r="2.0" fill="#2c2c2c" fill-opacity="0.489719836888334"/>
<circle cx="399.4" cy="141.3" r="1.8" fill="#2c2c2c" fill-opacity="0.7866142298349755"/>
<circle cx="411.1" cy="171.7" r="3.1" fill="#2c2c2c" fill-opacity="0.7844727805148042"/>
<circle cx="413.2" cy="143.4" r="3.4" fill="#2c2c2c" fill-opacity="0.4645077079422634"/>
<circle cx="391.8" cy="127.3" r="3.2" fill="#2c2c2c" fill-opacity="0.4926974789931249"/>
<circle cx="389.0" cy="118.9" r="1.9" fill="#2c2c2c" fill-opacity="0.5796987470073183"/>
<circle cx="361.6" cy="139.1" r="2.3" fill="#2c2c2c" fill-opacity="0.5219089765726712"/>
<circle cx="389.2" cy="176.7" r="3.3" fill="#2c2c2c" fill-opacity="0.6074919797566415"/>
<circle cx="375.2" cy="166.2" r="2.5" fill="#2c2c2c" fill-opacity="0.6172870605180095"/>
<circle cx="409.4" cy="162.5" r="3.7" fill="#2c2c2c" fill-opacity="0.6151325489389977"/>
<circle cx="389.0" cy="137.6" r="3.2" fill="#2c2c2c" fill-opacity="0.7524464088077099"/>
<circle cx="378.3" cy="129.7" r="2.8" fill="#2c2c2c" fill-opacity="0.7071812015803216"/>
<circle cx="399.4" cy="143.1" r="2.0" fill="#2c2c2c" fill-opacity="0.7492619230851567"/>
<circle cx="409.7" cy="138.9" r="2.7" fill="#2c2c2c" fill-opacity="0.7375642563644207"/>
<circle cx="395.9" cy="166.5" r="2.2" fill="#2c2c2c" fill-opacity="0.6842469260562011"/>
<circle cx="382.9" cy="165.4" r="3.2" fill="#2c2c2c" fill-opacity="0.8313702219114757"/>
<circle cx="381.3" cy="177.4" r="2.6" fill="#2c2c2c" fill-opacity="0.791455789162439"/>
<circle cx="374.5" cy="142.2" r="2.2" fill="#2c2c2c" fill-opacity="0.4592499025705267"/>
<circle cx="369.0" cy="153.4" r="2.1" fill="#2c2c2c" fill-opacity="0.5941881425345699"/>
<circle cx="376.5" cy="176.9" r="2.1" fill="#2c2c2c" fill-opacity="0.8464871725367062"/>
<circle cx="363.9" cy="154.1" r="2.7" fill="#2c2c2c" fill-opacity="0.7838446942024075"/>
<circle cx="399.9" cy="128.6" r="2.8" fill="#2c2c2c" fill-opacity="0.7382836075793937"/>
<circle cx="402.2" cy="134.4" r="3.3" fill="#2c2c2c" fill-opacity="0.8341035486633966"/>
<circle cx="373.7" cy="154.0" r="2.3" fill="#2c2c2c" fill-opacity="0.7370753430644652"/>
<circle cx="374.6" cy="122.0" r="3.5" fill="#2c2c2c" fill-opacity="0.5468367215698133"/>
<circle cx="395.4" cy="166.4" r="2.2" fill="#2c2c2c" fill-opacity="0.7318937262151928"/>
<circle cx="408.9" cy="126.5" r="2.3" fill="#2c2c2c" fill-opacity="0.7960395754725402"/>
<circle cx="380.9" cy="170.6" r="3.3" fill="#2c2c2c" fill-opacity="0.48437016641487934"/>
<circle cx="414.4" cy="167.4" r="2.4" fill="#2c2c2c" fill-opacity="0.5926644338737634"/>
<circle cx="365.5" cy="137.7" r="1.8" fill="#2c2c2c" fill-opacity="0.5839207748516488"/>
<circle cx="368.0" cy="159.8" r="2.2" fill="#2c2c2c" fill-opacity="0.684042157955078"/>
<circle cx="409.0" cy="145.1" r="2.9" fill="#2c2c2c" fill-opacity="0.4976706799368584"/>
<circle cx="385.0" cy="177.4" r="2.0" fill="#2c2c2c" fill-opacity="0.8048756048902386"/>
<circle cx="397.8" cy="145.2" r="3.7" fill="#2c2c2c" fill-opacity="0.5996893634749303"/>
<circle cx="393.2" cy="122.4" r="2.4" fill="#2c2c2c" fill-opacity="0.7203548779188593"/>
<circle cx="372.4" cy="126.4" r="2.3" fill="#2c2c2c" fill-opacity="0.7516758768095051"/>
<circle cx="415.5" cy="144.3" r="2.9" fill="#2c2c2c" fill-opacity="0.4953184207286904"/>
<circle cx="369.6" cy="151.6" r="3.2" fill="#2c2c2c" fill-opacity="0.7214175365206419"/>
<circle cx="376.3" cy="145.1" r="3.1" fill="#2c2c2c" fill-opacity="0.7023537759469208"/>
<circle cx="402.6" cy="178.9" r="3.1" fill="#2c2c2c" fill-opacity="0.4992523285991425"/>
<circle cx="400.5" cy="145.6" r="2.5" fill="#2c2c2c" fill-opacity="0.7381909479188586"/>
<circle cx="369.1" cy="136.7" r="3.1" fill="#2c2c2c" fill-opacity="0.633081541902937"/>
<circle cx="383.9" cy="163.6" r="1.9" fill="#2c2c2c" fill-opacity="0.7363341754115728"/>
<circle cx="389.9" cy="126.5" r="3.3" fill="#2c2c2c" fill-opacity="0.5936889383192498"/>
<circle cx="387.2" cy="171.1" r="3.5" fill="#2c2c2c" fill-opacity="0.4668443306645721"/>
<circle cx="372.8" cy="150.3" r="3.3" fill="#2c2c2c" fill-opacity="0.5916437473155507"/>
<circle cx="378.8" cy="169.0" r="2.9" fill="#2c2c2c" fill-opacity="0.758684152571047"/>
<circle cx="370.9" cy="175.0" r="2.0" fill="#2c2c2c" fill-opacity="0.5581950056258405"/>
<circle cx="398.2" cy="157.3" r="3.4" fill="#2c2c2c" fill-opacity="0.7409157309296512"/>
<circle cx="394.9" cy="164.0" r="2.6" fill="#2c2c2c" fill-opacity="0.7473269802069209"/>
<circle cx="400.7" cy="124.6" r="3.0" fill="#2c2c2c" fill-opacity="0.5085884626493526"/>
<circle cx="377.5" cy="159.5" r="2.9" fill="#2c2c2c" fill-opacity="0.6773472821083333"/>
<circle cx="376.5" cy="157.0" r="3.2" fill="#1e1e1e" fill-opacity="0.85"/>
<circle cx="390.0" cy="156.0" r="3.3" fill="#1e1e1e" fill-opacity="0.85"/>
<circle cx="389.5" cy="143.0" r="3.9" fill="#1e1e1e" fill-opacity="0.85"/>
<circle cx="371.0" cy="141.0" r="3.0" fill="#1e1e1e" fill-opacity="0.85"/>
<circle cx="359.5" cy="151.5" r="4.0" fill="#1e1e1e" fill-opacity="0.85"/>
<circle cx="384.0" cy="174.6" r="4.1" fill="#1e1e1e" fill-opacity="0.85"/>
<circle cx="371.0" cy="173.0" r="4.1" fill="#1e1e1e" fill-opacity="0.85"/>
<circle cx="414.0" cy="153.0" r="3.5" fill="#1e1e1e" fill-opacity="0.85"/>
<circle cx="415.7" cy="162.3" r="3.7" fill="#1e1e1e" fill-opacity="0.85"/>
<circle cx="397.0" cy="151.5" r="3.7" fill="#1e1e1e" fill-opacity="0.85"/>
<circle cx="377.0" cy="164.6" r="3.8" fill="#1e1e1e" fill-opacity="0.85"/>
<circle cx="406.5" cy="171.5" r="4.2" fill="#1e1e1e" fill-opacity="0.85"/>
<circle cx="363.4" cy="136.0" r="3.8" fill="#1e1e1e" fill-opacity="0.85"/>
<circle cx="380.0" cy="127.0" r="3.4" fill="#1e1e1e" fill-opacity="0.85"/>
<circle cx="399.0" cy="128.5" r="4.0" fill="#1e1e1e" fill-opacity="0.85"/>
<circle cx="412.6" cy="139.0" r="3.6" fill="#1e1e1e" fill-opacity="0.85"/>
<circle cx="366.0" cy="160.0" r="3.7" fill="#1e1e1e" fill-opacity="0.85"/>
<circle cx="392.0" cy="178.0" r="3.9" fill="#1e1e1e" fill-opacity="0.85"/>
</g></g>
<circle cx="462.5" cy="150.3" r="33.800000000000004" fill="#9c9c9c" stroke="#fafafa" stroke-width="2.2"/>
<circle cx="462.5" cy="150.3" r="34.9" fill="none" stroke="#999" stroke-width="0.6"/>
<g clip-path="url(#cpR)"><g filter="url(#ro)">
<circle cx="447.0" cy="140.0" r="10.0" fill="#bcbcbc" fill-opacity="0.9"/>
<circle cx="455.0" cy="128.0" r="8.0" fill="#bcbcbc" fill-opacity="0.9"/>
<circle cx="462.0" cy="140.0" r="7.0" fill="#bcbcbc" fill-opacity="0.9"/>
<circle cx="440.0" cy="152.0" r="6.0" fill="#bcbcbc" fill-opacity="0.9"/>
<circle cx="452.0" cy="155.0" r="5.0" fill="#bcbcbc" fill-opacity="0.9"/>
<circle cx="470.0" cy="125.0" r="5.0" fill="#bcbcbc" fill-opacity="0.9"/>
<circle cx="486.0" cy="160.0" r="3.0" fill="#bcbcbc" fill-opacity="0.9"/>
<circle cx="470.0" cy="165.0" r="2.5" fill="#bcbcbc" fill-opacity="0.9"/>
<circle cx="491.5" cy="150.7" r="4.2" fill="#1c1c1c" fill-opacity="0.7475617628688541"/>
<circle cx="440.4" cy="147.0" r="1.8" fill="#555" fill-opacity="0.535341770754469"/>
<circle cx="485.2" cy="155.7" r="4.1" fill="#1c1c1c" fill-opacity="0.7332666727414137"/>
<circle cx="432.9" cy="137.3" r="3.0" fill="#555" fill-opacity="0.3974557248021221"/>
<circle cx="469.4" cy="125.2" r="2.6" fill="#1c1c1c" fill-opacity="0.7079703046791467"/>
<circle cx="463.5" cy="159.5" r="3.8" fill="#1c1c1c" fill-opacity="0.8789467722318398"/>
<circle cx="448.8" cy="177.9" r="4.2" fill="#1c1c1c" fill-opacity="0.6403070012044492"/>
<circle cx="478.6" cy="130.4" r="4.8" fill="#1c1c1c" fill-opacity="0.8147856363951547"/>
<circle cx="461.2" cy="131.0" r="2.9" fill="#555" fill-opacity="0.6761089874220501"/>
<circle cx="476.6" cy="133.6" r="4.4" fill="#1c1c1c" fill-opacity="0.7455005280281829"/>
<circle cx="467.8" cy="154.6" r="2.7" fill="#1c1c1c" fill-opacity="0.6600908287745022"/>
<circle cx="474.9" cy="170.0" r="4.2" fill="#1c1c1c" fill-opacity="0.7612307083274105"/>
<circle cx="439.0" cy="162.8" r="3.3" fill="#1c1c1c" fill-opacity="0.7393215927278584"/>
<circle cx="463.4" cy="129.4" r="1.8" fill="#555" fill-opacity="0.6647939492988142"/>
<circle cx="458.7" cy="130.7" r="2.1" fill="#555" fill-opacity="0.5352659026275213"/>
<circle cx="449.7" cy="141.4" r="1.5" fill="#555" fill-opacity="0.42314827137094485"/>
<circle cx="465.1" cy="138.1" r="2.3" fill="#555" fill-opacity="0.41835483801128354"/>
<circle cx="466.0" cy="163.5" r="3.5" fill="#1c1c1c" fill-opacity="0.6504827446566174"/>
<circle cx="473.3" cy="152.2" r="2.9" fill="#1c1c1c" fill-opacity="0.7470825437861706"/>
<circle cx="467.1" cy="152.1" r="3.6" fill="#1c1c1c" fill-opacity="0.7223228909809266"/>
<circle cx="460.3" cy="143.2" r="2.2" fill="#555" fill-opacity="0.4888130916106281"/>
<circle cx="494.5" cy="155.7" r="3.0" fill="#1c1c1c" fill-opacity="0.6282812574261828"/>
<circle cx="449.3" cy="152.4" r="4.1" fill="#1c1c1c" fill-opacity="0.7039077265099165"/>
<circle cx="467.9" cy="155.6" r="4.3" fill="#1c1c1c" fill-opacity="0.6825266517280507"/>
<circle cx="467.8" cy="128.4" r="4.8" fill="#1c1c1c" fill-opacity="0.6901644464326719"/>
<circle cx="462.5" cy="167.3" r="4.5" fill="#1c1c1c" fill-opacity="0.7887311898010954"/>
<circle cx="456.8" cy="158.7" r="4.2" fill="#1c1c1c" fill-opacity="0.8907802084596108"/>
<circle cx="460.8" cy="149.2" r="1.6" fill="#555" fill-opacity="0.3816870518526148"/>
<circle cx="465.5" cy="155.8" r="2.6" fill="#1c1c1c" fill-opacity="0.7962935228118182"/>
<circle cx="474.5" cy="141.6" r="4.9" fill="#1c1c1c" fill-opacity="0.7430633679180959"/>
<circle cx="472.9" cy="120.5" r="4.9" fill="#1c1c1c" fill-opacity="0.6102635429404217"/>
<circle cx="453.8" cy="174.5" r="4.9" fill="#1c1c1c" fill-opacity="0.6263338408186575"/>
<circle cx="454.3" cy="179.6" r="2.8" fill="#1c1c1c" fill-opacity="0.716959021718643"/>
<circle cx="448.8" cy="173.8" r="4.8" fill="#1c1c1c" fill-opacity="0.6523892995062464"/>
<circle cx="460.7" cy="122.1" r="2.9" fill="#555" fill-opacity="0.5436677919755335"/>
<circle cx="480.1" cy="141.1" r="3.5" fill="#1c1c1c" fill-opacity="0.66882144535589"/>
<circle cx="466.7" cy="127.8" r="3.2" fill="#1c1c1c" fill-opacity="0.6509229440399638"/>
<circle cx="457.8" cy="125.1" r="2.7" fill="#555" fill-opacity="0.4853798429094971"/>
<circle cx="449.6" cy="151.3" r="2.7" fill="#555" fill-opacity="0.3580337750761113"/>
<circle cx="434.4" cy="156.2" r="4.2" fill="#1c1c1c" fill-opacity="0.6291262268723967"/>
<circle cx="464.9" cy="180.5" r="4.1" fill="#1c1c1c" fill-opacity="0.8635601355408038"/>
<circle cx="477.9" cy="134.4" r="4.7" fill="#1c1c1c" fill-opacity="0.8198573350457647"/>
<circle cx="452.4" cy="167.7" r="2.7" fill="#1c1c1c" fill-opacity="0.7197999085192656"/>
<circle cx="472.8" cy="147.4" r="3.9" fill="#1c1c1c" fill-opacity="0.633039570116237"/>
<circle cx="485.7" cy="163.2" r="3.1" fill="#1c1c1c" fill-opacity="0.6146460033453514"/>
<circle cx="477.7" cy="172.0" r="4.0" fill="#1c1c1c" fill-opacity="0.6034973079981854"/>
<circle cx="466.6" cy="182.5" r="3.1" fill="#1c1c1c" fill-opacity="0.7687351283033935"/>
<circle cx="437.0" cy="164.4" r="4.0" fill="#1c1c1c" fill-opacity="0.8365923573439293"/>
<circle cx="448.5" cy="147.2" r="1.8" fill="#555" fill-opacity="0.37769482779846586"/>
<circle cx="467.6" cy="140.5" r="1.5" fill="#555" fill-opacity="0.6882453321329614"/>
<circle cx="472.3" cy="179.9" r="2.7" fill="#1c1c1c" fill-opacity="0.739570409951645"/>
<circle cx="467.6" cy="179.9" r="4.0" fill="#1c1c1c" fill-opacity="0.7925416353767742"/>
<circle cx="464.7" cy="119.6" r="3.4" fill="#1c1c1c" fill-opacity="0.7809319868558829"/>
<circle cx="452.1" cy="154.0" r="4.6" fill="#1c1c1c" fill-opacity="0.7783188531779598"/>
<circle cx="468.4" cy="136.5" r="3.8" fill="#1c1c1c" fill-opacity="0.7392522349192513"/>
<circle cx="461.2" cy="141.2" r="2.1" fill="#555" fill-opacity="0.5195894506853915"/>
<circle cx="484.6" cy="161.0" r="4.3" fill="#1c1c1c" fill-opacity="0.7268554928543611"/>
<circle cx="447.2" cy="129.7" r="1.9" fill="#555" fill-opacity="0.4726911369211107"/>
<circle cx="481.6" cy="149.8" r="3.6" fill="#1c1c1c" fill-opacity="0.6252561790889667"/>
<circle cx="465.2" cy="163.4" r="4.8" fill="#1c1c1c" fill-opacity="0.8179088813485229"/>
<circle cx="485.6" cy="127.1" r="4.0" fill="#1c1c1c" fill-opacity="0.8794036627812561"/>
<circle cx="441.7" cy="145.5" r="3.1" fill="#555" fill-opacity="0.6660822396600239"/>
<circle cx="484.3" cy="143.1" r="4.4" fill="#1c1c1c" fill-opacity="0.7220943923355468"/>
<circle cx="494.2" cy="149.8" r="3.2" fill="#1c1c1c" fill-opacity="0.8802586131202852"/>
<circle cx="466.6" cy="159.7" r="4.3" fill="#1c1c1c" fill-opacity="0.6882892202664654"/>
<circle cx="436.3" cy="147.1" r="1.6" fill="#555" fill-opacity="0.610814759303392"/>
<circle cx="459.0" cy="171.7" r="3.4" fill="#1c1c1c" fill-opacity="0.8226267170833151"/>
<circle cx="462.1" cy="132.6" r="1.7" fill="#555" fill-opacity="0.45476667968902124"/>
<circle cx="454.7" cy="155.2" r="2.9" fill="#1c1c1c" fill-opacity="0.8288191120549724"/>
<circle cx="452.5" cy="119.3" r="3.2" fill="#555" fill-opacity="0.6566503284274721"/>
<circle cx="453.3" cy="159.8" r="3.3" fill="#1c1c1c" fill-opacity="0.7389461170303113"/>
<circle cx="438.5" cy="146.4" r="2.1" fill="#555" fill-opacity="0.648442884169079"/>
<circle cx="457.6" cy="172.2" r="4.7" fill="#1c1c1c" fill-opacity="0.8421414051149956"/>
<circle cx="457.7" cy="165.8" r="4.5" fill="#1c1c1c" fill-opacity="0.6030174225888112"/>
<circle cx="478.8" cy="168.0" r="3.8" fill="#1c1c1c" fill-opacity="0.6497188209372252"/>
<circle cx="476.7" cy="154.9" r="4.4" fill="#1c1c1c" fill-opacity="0.7397243150060504"/>
<circle cx="491.5" cy="146.5" r="4.9" fill="#1c1c1c" fill-opacity="0.6105370927382572"/>
<circle cx="464.0" cy="153.8" r="3.6" fill="#1c1c1c" fill-opacity="0.7014806937475488"/>
<circle cx="485.6" cy="158.0" r="2.7" fill="#1c1c1c" fill-opacity="0.693484558005009"/>
<circle cx="463.0" cy="179.9" r="3.5" fill="#1c1c1c" fill-opacity="0.6781064927716551"/>
<circle cx="483.3" cy="156.2" r="4.1" fill="#1c1c1c" fill-opacity="0.8025679308897173"/>
<circle cx="487.8" cy="134.8" r="3.1" fill="#1c1c1c" fill-opacity="0.6406996289126389"/>
<circle cx="464.0" cy="121.0" r="2.4" fill="#555" fill-opacity="0.6408488770433193"/>
<circle cx="446.0" cy="144.7" r="1.8" fill="#555" fill-opacity="0.3559663479777973"/>
<circle cx="443.0" cy="125.8" r="3.0" fill="#555" fill-opacity="0.5136204278647721"/>
<circle cx="446.4" cy="122.9" r="2.9" fill="#555" fill-opacity="0.5609267170007168"/>
<circle cx="442.1" cy="162.5" r="2.9" fill="#1c1c1c" fill-opacity="0.6548848138907541"/>
<circle cx="449.2" cy="120.2" r="2.4" fill="#555" fill-opacity="0.492850966907746"/>
<circle cx="449.2" cy="168.1" r="4.5" fill="#1c1c1c" fill-opacity="0.7357548220821553"/>
<circle cx="475.1" cy="147.0" r="3.3" fill="#1c1c1c" fill-opacity="0.7565995261917076"/>
<circle cx="436.6" cy="166.3" r="4.6" fill="#1c1c1c" fill-opacity="0.8793977638755062"/>
<circle cx="458.1" cy="146.6" r="2.5" fill="#555" fill-opacity="0.5424118171678372"/>
<circle cx="445.1" cy="151.7" r="2.7" fill="#555" fill-opacity="0.6690683457529163"/>
<circle cx="484.1" cy="166.5" r="3.4" fill="#1c1c1c" fill-opacity="0.7544378947176105"/>
<circle cx="488.1" cy="130.6" r="4.1" fill="#1c1c1c" fill-opacity="0.6585261187956697"/>
<circle cx="474.8" cy="143.6" r="3.5" fill="#1c1c1c" fill-opacity="0.8484529906434782"/>
<circle cx="455.6" cy="166.0" r="4.9" fill="#1c1c1c" fill-opacity="0.883141141347753"/>
<circle cx="454.0" cy="169.1" r="3.2" fill="#1c1c1c" fill-opacity="0.6394543791205329"/>
<circle cx="462.5" cy="183.0" r="2.7" fill="#1c1c1c" fill-opacity="0.6689256100880843"/>
<circle cx="465.4" cy="159.2" r="3.8" fill="#1c1c1c" fill-opacity="0.8229057124978743"/>
<circle cx="458.0" cy="170.0" r="9.0" fill="#1a1a1a" fill-opacity="0.85"/>
<circle cx="470.0" cy="172.0" r="8.0" fill="#1a1a1a" fill-opacity="0.85"/>
<circle cx="446.0" cy="166.0" r="6.0" fill="#1a1a1a" fill-opacity="0.85"/>
<circle cx="480.0" cy="160.0" r="7.0" fill="#1a1a1a" fill-opacity="0.85"/>
<circle cx="474.8" cy="133.0" r="5.0" fill="#1a1a1a" fill-opacity="0.85"/>
<circle cx="482.0" cy="143.0" r="5.0" fill="#1a1a1a" fill-opacity="0.85"/>
<circle cx="468.0" cy="150.0" r="6.0" fill="#1a1a1a" fill-opacity="0.85"/>
<circle cx="490.0" cy="148.0" r="4.0" fill="#1a1a1a" fill-opacity="0.85"/>
<circle cx="438.0" cy="160.0" r="4.0" fill="#1a1a1a" fill-opacity="0.85"/>
<circle cx="455.0" cy="180.0" r="5.0" fill="#1a1a1a" fill-opacity="0.85"/>
<circle cx="432.0" cy="148.0" r="2.5" fill="#1a1a1a" fill-opacity="0.85"/>
<circle cx="436.0" cy="135.0" r="2.5" fill="#1a1a1a" fill-opacity="0.85"/>
</g></g>
<path d="M425.500 150h5" stroke="#555" stroke-width="1.2"/><path d="M352.500 150h4" stroke="#555" stroke-width="1.2"/>
<path d="M355 118l3 8" stroke="#aaa" stroke-width="0.8"/><path d="M426.500 117v6" stroke="#666" stroke-width="1"/>
</g>
</g>
<text x="20.5" y="213.8" font-size="16.5" text-anchor="start" >D</text>
<line x1="83.9" y1="217.3" x2="83.9" y2="436.70000000000005" stroke="#000" stroke-width="1.6" />
<line x1="81.3" y1="433.1" x2="372" y2="433.1" stroke="#000" stroke-width="1.7" />
<text x="77.30000000000001" y="439.67499999999995" font-size="11" text-anchor="end" >0</text>
<line x1="80.9" y1="420.46000000000004" x2="83.9" y2="420.46000000000004" stroke="#000" stroke-width="1.2" />
<text x="77.30000000000001" y="426.9" font-size="11" text-anchor="end" >1</text>
<line x1="80.9" y1="407.82000000000005" x2="83.9" y2="407.82000000000005" stroke="#000" stroke-width="1.2" />
<line x1="80.9" y1="395.18" x2="83.9" y2="395.18" stroke="#000" stroke-width="1.2" />
<text x="77.30000000000001" y="401.34999999999997" font-size="11" text-anchor="end" >3</text>
<line x1="80.9" y1="382.54" x2="83.9" y2="382.54" stroke="#000" stroke-width="1.2" />
<line x1="80.9" y1="369.90000000000003" x2="83.9" y2="369.90000000000003" stroke="#000" stroke-width="1.2" />
<text x="77.30000000000001" y="375.79999999999995" font-size="11" text-anchor="end" >5</text>
<line x1="80.9" y1="357.26" x2="83.9" y2="357.26" stroke="#000" stroke-width="1.2" />
<line x1="80.9" y1="344.62" x2="83.9" y2="344.62" stroke="#000" stroke-width="1.2" />
<text x="77.30000000000001" y="350.25" font-size="11" text-anchor="end" >7</text>
<line x1="80.9" y1="331.98" x2="83.9" y2="331.98" stroke="#000" stroke-width="1.2" />
<line x1="80.9" y1="319.34000000000003" x2="83.9" y2="319.34000000000003" stroke="#000" stroke-width="1.2" />
<text x="77.30000000000001" y="324.7" font-size="11" text-anchor="end" >9</text>
<line x1="80.9" y1="306.70000000000005" x2="83.9" y2="306.70000000000005" stroke="#000" stroke-width="1.2" />
<line x1="80.9" y1="294.06" x2="83.9" y2="294.06" stroke="#000" stroke-width="1.2" />
<text x="77.30000000000001" y="299.15" font-size="11" text-anchor="end" >11</text>
<line x1="80.9" y1="281.42" x2="83.9" y2="281.42" stroke="#000" stroke-width="1.2" />
<line x1="80.9" y1="268.78000000000003" x2="83.9" y2="268.78000000000003" stroke="#000" stroke-width="1.2" />
<text x="77.30000000000001" y="273.59999999999997" font-size="11" text-anchor="end" >13</text>
<line x1="80.9" y1="256.14" x2="83.9" y2="256.14" stroke="#000" stroke-width="1.2" />
<line x1="80.9" y1="243.5" x2="83.9" y2="243.5" stroke="#000" stroke-width="1.2" />
<text x="77.30000000000001" y="248.05" font-size="11" text-anchor="end" >15</text>
<line x1="80.9" y1="230.86" x2="83.9" y2="230.86" stroke="#000" stroke-width="1.2" />
<line x1="80.9" y1="218.22000000000003" x2="83.9" y2="218.22000000000003" stroke="#000" stroke-width="1.2" />
<text x="77.30000000000001" y="222.5" font-size="11" text-anchor="end" >17</text>
<line x1="110.6" y1="433.1" x2="110.6" y2="437.3" stroke="#000" stroke-width="1.2" />
<text x="110.19999999999999" y="448.6" font-size="11" text-anchor="middle" >14</text>
<line x1="162.55" y1="433.1" x2="162.55" y2="437.3" stroke="#000" stroke-width="1.2" />
<text x="162.15" y="448.6" font-size="11" text-anchor="middle" >17</text>
<line x1="214.5" y1="433.1" x2="214.5" y2="437.3" stroke="#000" stroke-width="1.2" />
<text x="214.1" y="448.6" font-size="11" text-anchor="middle" >21</text>
<line x1="266.45000000000005" y1="433.1" x2="266.45000000000005" y2="437.3" stroke="#000" stroke-width="1.2" />
<text x="266.05000000000007" y="448.6" font-size="11" text-anchor="middle" >25</text>
<line x1="318.4" y1="433.1" x2="318.4" y2="437.3" stroke="#000" stroke-width="1.2" />
<text x="318.0" y="448.6" font-size="11" text-anchor="middle" >28</text>
<line x1="370.35" y1="433.1" x2="370.35" y2="437.3" stroke="#000" stroke-width="1.2" />
<text x="369.95000000000005" y="448.6" font-size="11" text-anchor="middle" >31</text>
<text x="227.7" y="463.3" font-size="11.8" text-anchor="middle" >Time (days after injection)</text>
<text x="40" y="350" font-size="11.55" text-anchor="middle" transform="rotate(-90 40 350)" class="r" >Bioluminescence</text>
<text x="53" y="350.5" font-size="11.55" text-anchor="middle" transform="rotate(-90 53 350.5)" class="r" >(photons/s ×10<tspan font-size="7.500" dy="-3.5">7</tspan><tspan dy="3.5">)</tspan></text>
<line x1="110.6" y1="419.8" x2="110.6" y2="434" stroke="#000" stroke-width="1.1" />
<line x1="108.5" y1="419.8" x2="112.69999999999999" y2="419.8" stroke="#000" stroke-width="1.1" />
<line x1="162.55" y1="423.3" x2="162.55" y2="434" stroke="#000" stroke-width="1.1" />
<line x1="160.45000000000002" y1="423.3" x2="164.65" y2="423.3" stroke="#000" stroke-width="1.1" />
<line x1="214.5" y1="424" x2="214.5" y2="433" stroke="#000" stroke-width="1.1" />
<line x1="212.4" y1="424" x2="216.6" y2="424" stroke="#000" stroke-width="1.1" />
<line x1="266.45000000000005" y1="424" x2="266.45000000000005" y2="433" stroke="#000" stroke-width="1.1" />
<line x1="264.35" y1="424" x2="268.55000000000007" y2="424" stroke="#000" stroke-width="1.1" />
<line x1="318.4" y1="421" x2="318.4" y2="433" stroke="#000" stroke-width="1.1" />
<line x1="316.29999999999995" y1="421" x2="320.5" y2="421" stroke="#000" stroke-width="1.1" />
<line x1="370.35" y1="421" x2="370.35" y2="434" stroke="#000" stroke-width="1.1" />
<line x1="368.25" y1="421" x2="372.45000000000005" y2="421" stroke="#000" stroke-width="1.1" />
<polyline points="110.6,427 162.6,429.3 214.5,428.5 266.5,428.5 318.4,427.5 370.4,429" fill="none" stroke="#000" stroke-width="2.5"/>
<path d="M105.3 427L110.6 422.5L115.9 427L110.6 431.5z"/>
<path d="M157.2 429.3L162.6 424.8L167.9 429.3L162.6 433.8z"/>
<path d="M209.2 428.5L214.5 424.0L219.8 428.5L214.5 433.0z"/>
<path d="M261.2 428.5L266.5 424.0L271.8 428.5L266.5 433.0z"/>
<path d="M313.1 427.5L318.4 423.0L323.7 427.5L318.4 432.0z"/>
<path d="M365.1 429L370.4 424.5L375.7 429L370.4 433.5z"/>
<line x1="110.6" y1="376.5" x2="110.6" y2="403" stroke="#000" stroke-width="1.1" />
<line x1="108.1" y1="376.5" x2="113.1" y2="376.5" stroke="#000" stroke-width="1.1" />
<line x1="108.1" y1="403" x2="113.1" y2="403" stroke="#000" stroke-width="1.1" />
<line x1="162.55" y1="388" x2="162.55" y2="411.2" stroke="#000" stroke-width="1.1" />
<line x1="160.05" y1="388" x2="165.05" y2="388" stroke="#000" stroke-width="1.1" />
<line x1="160.05" y1="411.2" x2="165.05" y2="411.2" stroke="#000" stroke-width="1.1" />
<line x1="214.5" y1="360" x2="214.5" y2="371.5" stroke="#000" stroke-width="1.1" />
<line x1="212.0" y1="360" x2="217.0" y2="360" stroke="#000" stroke-width="1.1" />
<line x1="212.0" y1="371.5" x2="217.0" y2="371.5" stroke="#000" stroke-width="1.1" />
<line x1="266.45000000000005" y1="362" x2="266.45000000000005" y2="391.8" stroke="#000" stroke-width="1.1" />
<line x1="263.95000000000005" y1="362" x2="268.95000000000005" y2="362" stroke="#000" stroke-width="1.1" />
<line x1="263.95000000000005" y1="391.8" x2="268.95000000000005" y2="391.8" stroke="#000" stroke-width="1.1" />
<line x1="318.4" y1="269.2" x2="318.4" y2="301" stroke="#000" stroke-width="1.1" />
<line x1="315.9" y1="269.2" x2="320.9" y2="269.2" stroke="#000" stroke-width="1.1" />
<line x1="315.9" y1="301" x2="320.9" y2="301" stroke="#000" stroke-width="1.1" />
<line x1="370.35" y1="220.2" x2="370.35" y2="289.4" stroke="#000" stroke-width="1.1" />
<line x1="367.85" y1="220.2" x2="372.85" y2="220.2" stroke="#000" stroke-width="1.1" />
<line x1="367.85" y1="289.4" x2="372.85" y2="289.4" stroke="#000" stroke-width="1.1" />
<polyline points="110.6,389.1 162.6,399.7 214.5,364.8 266.5,376.2 318.4,284.6 370.4,254" fill="none" stroke="#000" stroke-width="2.7" stroke-dasharray="5.8 2.6"/>
<rect x="105.35" y="384.6" width="10.5" height="9" fill="#000" />
<rect x="157.3" y="395.2" width="10.5" height="9" fill="#000" />
<rect x="209.25" y="360.3" width="10.5" height="9" fill="#000" />
<rect x="261.2" y="371.7" width="10.5" height="9" fill="#000" />
<rect x="313.15" y="280.1" width="10.5" height="9" fill="#000" />
<rect x="365.1" y="249.5" width="10.5" height="9" fill="#000" />
<text x="111.19999999999999" y="379.90000000000003" font-size="16.5" text-anchor="middle" letter-spacing="1.2">**</text>
<text x="163.15" y="389.1" font-size="16.5" text-anchor="middle" letter-spacing="1.2">**</text>
<text x="215.1" y="358.0" font-size="16.5" text-anchor="middle" letter-spacing="1.2">***</text>
<text x="267.05000000000007" y="358.0" font-size="16.5" text-anchor="middle" letter-spacing="1.2">***</text>
<text x="319.0" y="271.1" font-size="16.5" text-anchor="middle" letter-spacing="1.2">**</text>
<text x="370.95000000000005" y="220.1" font-size="16.5" text-anchor="middle" letter-spacing="1.2">**</text>
<line x1="110.8" y1="305.9" x2="145.8" y2="305.9" stroke="#000" stroke-width="2.7" />
<path d="M124.200 305.900L129.400 301L134.600 305.900L129.400 310.800z"/><circle cx="129.400" cy="305.900" r="0.45" fill="#fff"/>
<text x="153.3" y="310.3" font-size="11.7" text-anchor="start" >CT</text>
<line x1="112" y1="323.7" x2="125" y2="323.7" stroke="#000" stroke-width="2.7" stroke-dasharray="5.8 2.6"/>
<line x1="134.2" y1="323.7" x2="146.7" y2="323.7" stroke="#000" stroke-width="2.7" stroke-dasharray="7.3 3.3 1.9 9"/>
<rect x="124.2" y="319.8" width="10.5" height="8" fill="#000" />
<text x="153.3" y="328.3" font-size="11.7" text-anchor="start" >C7</text>
<text x="175.3" y="254.3" font-size="11.9" text-anchor="start" >Vol. = 65 ± 5 mm<tspan font-size="8.500" dy="-4.5">3</tspan></text>
<text x="175.3" y="281" font-size="11.9" text-anchor="start" >Vol. = 266 ± 10 mm<tspan font-size="8.500" dy="-4.5">3</tspan></text>
<g filter="url(#bl)">
<rect x="112.1" y="236.7" width="18.7" height="19.2" fill="#b9b9b9" />
<rect x="134.6" y="236.7" width="18.9" height="19.2" fill="#bcbcbc" />
<rect x="95.4" y="259.7" width="37.3" height="27" fill="#a9a9a9" />
<rect x="135.2" y="259.7" width="36.5" height="27" fill="#aeaeae" />
<g filter="url(#ro)">
<ellipse cx="121.700" cy="247.2" rx="3.9" ry="4.3" fill="#707070"/><ellipse cx="121.700" cy="247.600" rx="2.6" ry="2.9" fill="#1c1c1c"/>
<ellipse cx="145" cy="247.2" rx="3.7" ry="5" fill="#8a8a8a"/><ellipse cx="145.2" cy="247.800" rx="2.5" ry="3.4" fill="#555"/>
<ellipse cx="113.400" cy="275.400" rx="10.8" ry="10.8" fill="#505050"/><ellipse cx="115" cy="277" rx="8.5" ry="8.5" fill="#1c1c1c"/><ellipse cx="109" cy="270" rx="4" ry="2.5" fill="#666"/>
<ellipse cx="151" cy="274.300" rx="12" ry="11.4" fill="#484848"/><ellipse cx="149.500" cy="276" rx="9.5" ry="8.8" fill="#1a1a1a"/><ellipse cx="155" cy="267.500" rx="5" ry="2.5" fill="#5e5e5e"/><ellipse cx="166" cy="282" rx="5" ry="3.5" fill="#c0c0c0"/>
</g></g>
<text x="21" y="490.8" font-size="16.5" text-anchor="start" >E</text>
<line x1="57.5" y1="499.2" x2="57.5" y2="647.3" stroke="#000" stroke-width="2" />
<line x1="54" y1="646.3" x2="116" y2="646.3" stroke="#000" stroke-width="2" />
<line x1="54.5" y1="500" x2="57.5" y2="500" stroke="#000" stroke-width="1.4" />
<text x="53.0" y="504.4" font-size="10.2" text-anchor="end" >20</text>
<line x1="54.5" y1="538.5" x2="57.5" y2="538.5" stroke="#000" stroke-width="1.4" />
<text x="53.0" y="542.9" font-size="10.2" text-anchor="end" >15</text>
<line x1="54.5" y1="573.5" x2="57.5" y2="573.5" stroke="#000" stroke-width="1.4" />
<text x="53.0" y="577.9" font-size="10.2" text-anchor="end" >10</text>
<line x1="54.5" y1="610.8" x2="57.5" y2="610.8" stroke="#000" stroke-width="1.4" />
<text x="53.0" y="615.1999999999999" font-size="10.2" text-anchor="end" >5</text>
<line x1="54.5" y1="646.5" x2="57.5" y2="646.5" stroke="#000" stroke-width="1.4" />
<text x="53.0" y="650.9" font-size="10.2" text-anchor="end" >0</text>
<line x1="73" y1="636.2" x2="73" y2="641" stroke="#000" stroke-width="1.1" />
<line x1="70.8" y1="636.2" x2="75.2" y2="636.2" stroke="#000" stroke-width="1.1" />
<rect x="61" y="640.7" width="24" height="5.599999999999909" fill="#000" />
<line x1="101.5" y1="505.7" x2="101.5" y2="537" stroke="#000" stroke-width="0.9" />
<line x1="99.5" y1="505.7" x2="103.5" y2="505.7" stroke="#000" stroke-width="0.9" />
<rect x="90.5" y="536.8" width="22.200000000000003" height="109.5" fill="url(#nz)" stroke="#000" stroke-width="2" />
<text x="71.7" y="660" font-size="11.6" text-anchor="middle" >CT</text>
<text x="100.5" y="660" font-size="11.6" text-anchor="middle" >C7</text>
<text x="101" y="505.5" font-size="16" text-anchor="middle" letter-spacing="0.600">***</text>
<text x="32" y="573.5" font-size="11" text-anchor="middle" transform="rotate(-90 32 573.5)" class="r" >Plasmatic CXCL7 (pg/mL)</text>
<line x1="156.8" y1="499.9" x2="156.8" y2="647" stroke="#000" stroke-width="2" />
<line x1="152.3" y1="646" x2="220" y2="646" stroke="#000" stroke-width="2" />
<line x1="153.10000000000002" y1="500.9" x2="156.8" y2="500.9" stroke="#000" stroke-width="1.4" />
<text x="150.5" y="505.09999999999997" font-size="10.2" text-anchor="end" >50</text>
<line x1="153.10000000000002" y1="529.9499999999999" x2="156.8" y2="529.9499999999999" stroke="#000" stroke-width="1.4" />
<text x="150.5" y="534.15" font-size="10.2" text-anchor="end" >40</text>
<line x1="153.10000000000002" y1="559.0" x2="156.8" y2="559.0" stroke="#000" stroke-width="1.4" />
<text x="150.5" y="563.2" font-size="10.2" text-anchor="end" >30</text>
<line x1="153.10000000000002" y1="588.05" x2="156.8" y2="588.05" stroke="#000" stroke-width="1.4" />
<text x="150.5" y="592.25" font-size="10.2" text-anchor="end" >20</text>
<line x1="153.10000000000002" y1="617.1" x2="156.8" y2="617.1" stroke="#000" stroke-width="1.4" />
<text x="150.5" y="621.3000000000001" font-size="10.2" text-anchor="end" >10</text>
<line x1="153.10000000000002" y1="646.15" x2="156.8" y2="646.15" stroke="#000" stroke-width="1.4" />
<text x="150.5" y="650.35" font-size="10.2" text-anchor="end" >0</text>
<line x1="173" y1="639.5" x2="173" y2="642" stroke="#000" stroke-width="1.1" />
<line x1="170.8" y1="639.5" x2="175.2" y2="639.5" stroke="#000" stroke-width="1.1" />
<rect x="161.2" y="641.7" width="23.80000000000001" height="4.2999999999999545" fill="#000" />
<line x1="201.5" y1="521.2" x2="201.5" y2="543" stroke="#000" stroke-width="0.9" />
<line x1="199.5" y1="521.2" x2="203.5" y2="521.2" stroke="#000" stroke-width="0.9" />
<rect x="190.5" y="542.6" width="22.19999999999999" height="103.39999999999998" fill="url(#nz)" stroke="#000" stroke-width="2" />
<text x="171.7" y="660" font-size="11.6" text-anchor="middle" >CT</text>
<text x="200.5" y="660" font-size="11.6" text-anchor="middle" >C7</text>
<text x="201.5" y="520.5" font-size="16" text-anchor="middle" letter-spacing="0.600">***</text>
<text x="131.5" y="573" font-size="11" text-anchor="middle" transform="rotate(-90 131.5 573)" class="r" >Intratumor CXCL7 (ng/mg)</text>
<text x="229" y="490.8" font-size="16.5" text-anchor="start" >F</text>
<line x1="255" y1="500.2" x2="255" y2="647" stroke="#000" stroke-width="2" />
<line x1="251.2" y1="646" x2="314.5" y2="646" stroke="#000" stroke-width="2" />
<line x1="251.3" y1="501.2" x2="255" y2="501.2" stroke="#000" stroke-width="1.4" />
<text x="249.8" y="506.4" font-size="10.2" text-anchor="end" >4</text>
<line x1="251.3" y1="537.4" x2="255" y2="537.4" stroke="#000" stroke-width="1.4" />
<text x="249.8" y="542.35" font-size="10.2" text-anchor="end" >3</text>
<line x1="251.3" y1="573.6" x2="255" y2="573.6" stroke="#000" stroke-width="1.4" />
<text x="249.8" y="578.3000000000001" font-size="10.2" text-anchor="end" >2</text>
<line x1="251.3" y1="609.8" x2="255" y2="609.8" stroke="#000" stroke-width="1.4" />
<text x="249.8" y="614.25" font-size="10.2" text-anchor="end" >1</text>
<line x1="251.3" y1="646.0" x2="255" y2="646.0" stroke="#000" stroke-width="1.4" />
<text x="249.8" y="650.2" font-size="10.2" text-anchor="end" >0</text>
<line x1="270.5" y1="508" x2="270.5" y2="538" stroke="#000" stroke-width="0.85" />
<line x1="268.8" y1="508" x2="272.2" y2="508" stroke="#000" stroke-width="0.85" />
<rect x="258.7" y="537.1" width="23.30000000000001" height="108.89999999999998" fill="#000" />
<line x1="297.5" y1="502" x2="297.5" y2="538" stroke="#000" stroke-width="0.85" />
<line x1="295.8" y1="502" x2="299.2" y2="502" stroke="#000" stroke-width="0.85" />
<rect x="286.7" y="538.6" width="21.80000000000001" height="107.39999999999998" fill="url(#nz)" stroke="#000" stroke-width="2" />
<text x="266.7" y="660" font-size="11.6" text-anchor="middle" >CT</text>
<text x="295.5" y="660" font-size="11.6" text-anchor="middle" >C7</text>
<text x="235" y="574.5" font-size="11.15" text-anchor="middle" transform="rotate(-90 235 574.5)" class="r" >Hg (mg/mL.µg prot ×100)</text>
<text x="327" y="491.5" font-size="16.5" text-anchor="start" >G</text>
<line x1="381.4" y1="502" x2="381.4" y2="646.5" stroke="#000" stroke-width="2" />
<line x1="378.5" y1="645.5" x2="495.5" y2="645.5" stroke="#000" stroke-width="2" />
<line x1="376.4" y1="502.9" x2="381.4" y2="502.9" stroke="#000" stroke-width="1.6" />
<text x="374.59999999999997" y="506.7" font-size="10.5" text-anchor="end" >300</text>
<line x1="376.4" y1="526.65" x2="381.4" y2="526.65" stroke="#000" stroke-width="1.6" />
<text x="374.59999999999997" y="530.4499999999999" font-size="10.5" text-anchor="end" >250</text>
<line x1="376.4" y1="550.4" x2="381.4" y2="550.4" stroke="#000" stroke-width="1.6" />
<text x="374.59999999999997" y="554.1999999999999" font-size="10.5" text-anchor="end" >200</text>
<line x1="376.4" y1="574.15" x2="381.4" y2="574.15" stroke="#000" stroke-width="1.6" />
<text x="374.59999999999997" y="577.9499999999999" font-size="10.5" text-anchor="end" >150</text>
<line x1="376.4" y1="597.9" x2="381.4" y2="597.9" stroke="#000" stroke-width="1.6" />
<text x="374.59999999999997" y="601.6999999999999" font-size="10.5" text-anchor="end" >100</text>
<line x1="376.4" y1="621.65" x2="381.4" y2="621.65" stroke="#000" stroke-width="1.6" />
<text x="374.59999999999997" y="625.4499999999999" font-size="10.5" text-anchor="end" >50</text>
<line x1="376.4" y1="645.4" x2="381.4" y2="645.4" stroke="#000" stroke-width="1.6" />
<text x="374.59999999999997" y="649.1999999999999" font-size="10.5" text-anchor="end" >0</text>
<line x1="395.8" y1="589.4" x2="395.8" y2="599" stroke="#000" stroke-width="1.1" />
<line x1="393.6" y1="589.4" x2="398.0" y2="589.4" stroke="#000" stroke-width="1.1" />
<rect x="387.9" y="598.6" width="15.900000000000034" height="46.89999999999998" fill="#fff" stroke="#000" stroke-width="2" />
<line x1="415" y1="501" x2="415" y2="526" stroke="#000" stroke-width="1.1" />
<line x1="412.8" y1="501" x2="417.2" y2="501" stroke="#000" stroke-width="1.1" />
<rect x="404.8" y="525.5" width="20.19999999999999" height="120.0" fill="#000" />
<line x1="462.9" y1="590.8" x2="462.9" y2="599" stroke="#000" stroke-width="1.1" />
<line x1="460.7" y1="590.8" x2="465.09999999999997" y2="590.8" stroke="#000" stroke-width="1.1" />
<rect x="454.4" y="599.0" width="17.0" height="46.5" fill="#fff" stroke="#000" stroke-width="2" />
<line x1="482" y1="575.3" x2="482" y2="582" stroke="#000" stroke-width="1.1" />
<line x1="479.8" y1="575.3" x2="484.2" y2="575.3" stroke="#000" stroke-width="1.1" />
<rect x="472.4" y="581.5" width="19.30000000000001" height="64.0" fill="#000" />
<line x1="387" y1="497.5" x2="425" y2="497.5" stroke="#000" stroke-width="1.1" />
<text x="404" y="498.7" font-size="16.5" text-anchor="middle" >*</text>
<text x="470.3" y="561.3" font-size="11.5" text-anchor="middle" >NS</text>
<line x1="451.5" y1="564.8" x2="488" y2="564.8" stroke="#000" stroke-width="1.2" />
<text x="389.4" y="656.4" font-size="10.5" text-anchor="start" >CT</text>
<text x="405" y="656.4" font-size="10.5" text-anchor="start" >C7</text>
<line x1="386.2" y1="659.6" x2="425.2" y2="659.6" stroke="#000" stroke-width="1.5" />
<text x="403.5" y="671.7" font-size="11" text-anchor="middle" >pERK/ERK</text>
<text x="457" y="656.4" font-size="10.5" text-anchor="start" >CT</text>
<text x="472.7" y="656.4" font-size="10.5" text-anchor="start" >C7</text>
<line x1="452.1" y1="659.6" x2="493.9" y2="659.6" stroke="#000" stroke-width="1.5" />
<text x="472" y="671.7" font-size="10.9" text-anchor="middle" >pAKT/AKT</text>
<text x="339.2" y="574.8" font-size="10.9" text-anchor="middle" transform="rotate(-90 339.2 574.8)" class="r" >ERK/AKT activity</text>
<text x="351.6" y="574.1" font-size="10.9" text-anchor="middle" transform="rotate(-90 351.6 574.1)" class="r" >(% of control)</text>
</svg>
</body></html>
